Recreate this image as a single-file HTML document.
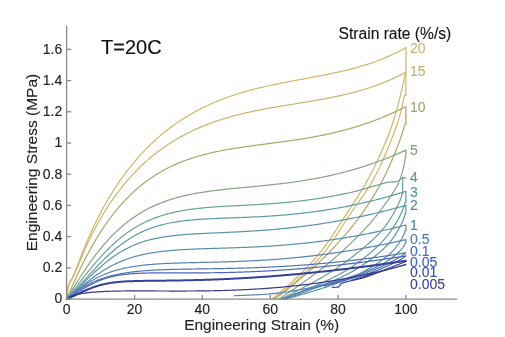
<!DOCTYPE html>
<html><head><meta charset="utf-8"><style>
html,body{margin:0;padding:0;background:#fff;}
body{width:505px;height:337px;overflow:hidden;font-family:"Liberation Sans", sans-serif;}
svg{display:block;}
svg{will-change:transform;}
</style></head><body>
<svg width="505" height="337" viewBox="0 0 505 337">
<rect width="505" height="337" fill="#fff"/>
<g fill="none" stroke-width="1.2" stroke-linejoin="round" stroke-linecap="round">
<path d="M66.70 299.10 L67.83 288.53 L68.97 284.39 L70.10 281.81 L71.24 279.92 L72.37 278.05 L73.51 275.61 L74.64 272.82 L75.78 269.91 L76.91 266.94 L78.04 263.95 L79.18 261.00 L80.31 258.02 L81.45 255.03 L82.58 252.09 L83.72 249.26 L84.85 246.48 L85.99 243.76 L87.12 241.08 L88.25 238.46 L89.39 235.89 L90.52 233.36 L91.66 230.87 L92.79 228.44 L93.93 226.04 L95.06 223.69 L96.20 221.37 L97.33 219.10 L98.46 216.86 L99.60 214.67 L100.73 212.51 L101.87 210.38 L103.00 208.29 L104.14 206.24 L105.27 204.22 L106.41 202.23 L107.54 200.27 L108.67 198.35 L109.81 196.45 L110.94 194.59 L112.08 192.75 L113.21 190.95 L114.35 189.17 L115.48 187.42 L116.62 185.69 L117.75 184.00 L118.88 182.33 L120.02 180.68 L121.15 179.06 L122.29 177.47 L123.42 175.89 L124.56 174.35 L125.69 172.82 L126.83 171.32 L127.96 169.84 L129.09 168.38 L130.23 166.95 L131.36 165.53 L132.50 164.14 L133.63 162.77 L134.77 161.42 L135.90 160.08 L137.04 158.77 L138.17 157.48 L139.30 156.20 L140.44 154.95 L141.57 153.71 L142.71 152.49 L143.84 151.29 L144.98 150.10 L146.11 148.93 L147.25 147.78 L148.38 146.65 L149.51 145.53 L150.65 144.43 L151.78 143.34 L152.92 142.27 L154.05 141.22 L155.19 140.18 L156.32 139.16 L157.46 138.15 L158.59 137.15 L159.72 136.17 L160.86 135.20 L161.99 134.25 L163.13 133.31 L164.26 132.38 L165.40 131.47 L166.53 130.57 L167.67 129.69 L168.80 128.81 L169.93 127.95 L171.07 127.10 L172.20 126.27 L173.34 125.44 L174.47 124.63 L175.61 123.83 L176.74 123.04 L177.88 122.26 L179.01 121.49 L180.14 120.74 L181.28 119.99 L182.41 119.26 L183.55 118.53 L184.68 117.82 L185.82 117.12 L186.95 116.43 L188.09 115.74 L189.22 115.07 L190.35 114.41 L191.49 113.75 L192.62 113.11 L193.76 112.48 L194.89 111.85 L196.03 111.23 L197.16 110.63 L198.30 110.03 L199.43 109.44 L200.56 108.86 L201.70 108.29 L202.83 107.72 L203.97 107.17 L205.10 106.62 L206.24 106.08 L207.37 105.55 L208.51 105.02 L209.64 104.51 L210.77 104.00 L211.91 103.50 L213.04 103.00 L214.18 102.52 L215.31 102.04 L216.45 101.57 L217.58 101.10 L218.72 100.64 L219.85 100.19 L220.98 99.74 L222.12 99.31 L223.25 98.87 L224.39 98.45 L225.52 98.03 L226.66 97.61 L227.79 97.21 L228.93 96.80 L230.06 96.41 L231.19 96.02 L232.33 95.63 L233.46 95.25 L234.60 94.88 L235.73 94.51 L236.87 94.15 L238.00 93.79 L239.14 93.44 L240.27 93.09 L241.41 92.75 L242.54 92.41 L243.67 92.08 L244.81 91.75 L245.94 91.43 L247.08 91.11 L248.21 90.79 L249.35 90.48 L250.48 90.17 L251.62 89.87 L252.75 89.57 L253.88 89.28 L255.02 88.99 L256.15 88.70 L257.29 88.42 L258.42 88.14 L259.56 87.86 L260.69 87.59 L261.83 87.32 L262.96 87.05 L264.09 86.79 L265.23 86.53 L266.36 86.27 L267.50 86.02 L268.63 85.77 L269.77 85.52 L270.90 85.27 L272.04 85.03 L273.17 84.79 L274.30 84.55 L275.44 84.31 L276.57 84.08 L277.71 83.85 L278.84 83.62 L279.98 83.39 L281.11 83.16 L282.25 82.94 L283.38 82.71 L284.51 82.49 L285.65 82.27 L286.78 82.05 L287.92 81.84 L289.05 81.62 L290.19 81.40 L291.32 81.19 L292.46 80.98 L293.59 80.77 L294.72 80.55 L295.86 80.34 L296.99 80.13 L298.13 79.93 L299.26 79.72 L300.40 79.51 L301.53 79.30 L302.67 79.09 L303.80 78.88 L304.93 78.67 L306.07 78.47 L307.20 78.26 L308.34 78.05 L309.47 77.84 L310.61 77.63 L311.74 77.42 L312.88 77.21 L314.01 77.00 L315.14 76.79 L316.28 76.57 L317.41 76.36 L318.55 76.14 L319.68 75.92 L320.82 75.71 L321.95 75.49 L323.09 75.26 L324.22 75.04 L325.35 74.82 L326.49 74.59 L327.62 74.36 L328.76 74.13 L329.89 73.90 L331.03 73.66 L332.16 73.43 L333.30 73.19 L334.43 72.94 L335.56 72.70 L336.70 72.45 L337.83 72.20 L338.97 71.95 L340.10 71.69 L341.24 71.43 L342.37 71.17 L343.51 70.90 L344.64 70.63 L345.77 70.36 L346.91 70.08 L348.04 69.80 L349.18 69.51 L350.31 69.22 L351.45 68.93 L352.58 68.63 L353.72 68.33 L354.85 68.03 L355.98 67.71 L357.12 67.40 L358.25 67.08 L359.39 66.75 L360.52 66.42 L361.66 66.08 L362.79 65.74 L363.93 65.40 L365.06 65.04 L366.19 64.69 L367.33 64.32 L368.46 63.95 L369.60 63.58 L370.73 63.20 L371.87 62.81 L373.00 62.41 L374.14 62.01 L375.27 61.60 L376.40 61.19 L377.54 60.77 L378.67 60.34 L379.81 59.90 L380.94 59.46 L382.08 59.01 L383.21 58.55 L384.35 58.08 L385.48 57.61 L386.61 57.13 L387.75 56.64 L388.88 56.14 L390.02 55.63 L391.15 55.12 L392.29 54.59 L393.42 54.06 L394.56 53.52 L395.69 52.97 L396.82 52.41 L397.96 51.84 L399.09 51.26 L400.23 50.67 L401.36 50.07 L402.50 49.47 L403.63 48.85 L404.77 48.22 L405.90 47.58 L405.90 95.70 L404.20 95.70 L403.98 97.07 L403.74 98.43 L403.49 99.80 L403.23 101.16 L402.95 102.53 L402.66 103.89 L402.36 105.26 L402.04 106.62 L401.72 107.99 L401.39 109.35 L401.04 110.72 L400.69 112.08 L400.33 113.45 L399.97 114.81 L399.60 116.18 L399.22 117.54 L398.84 118.91 L398.44 120.27 L398.02 121.64 L397.57 123.00 L397.11 124.37 L396.63 125.73 L396.13 127.10 L395.63 128.46 L395.13 129.83 L394.62 131.19 L394.10 132.56 L393.59 133.92 L393.07 135.29 L392.55 136.65 L392.03 138.02 L391.50 139.38 L390.97 140.75 L390.44 142.11 L389.90 143.48 L389.36 144.84 L388.81 146.21 L388.26 147.58 L387.70 148.94 L387.13 150.31 L386.57 151.67 L385.99 153.04 L385.41 154.40 L384.82 155.77 L384.23 157.13 L383.63 158.50 L383.02 159.86 L382.41 161.23 L381.79 162.59 L381.16 163.96 L380.52 165.32 L379.87 166.69 L379.22 168.05 L378.56 169.42 L377.89 170.78 L377.21 172.15 L376.52 173.51 L375.82 174.88 L375.11 176.24 L374.39 177.61 L373.64 178.97 L372.88 180.34 L372.09 181.70 L371.28 183.07 L370.45 184.43 L369.61 185.80 L368.74 187.16 L367.86 188.53 L366.97 189.89 L366.06 191.26 L365.15 192.62 L364.22 193.99 L363.28 195.35 L362.34 196.72 L361.38 198.08 L360.43 199.45 L359.47 200.81 L358.50 202.18 L357.54 203.54 L356.57 204.91 L355.61 206.27 L354.65 207.64 L353.69 209.00 L352.74 210.37 L351.79 211.73 L350.86 213.10 L349.93 214.46 L349.01 215.83 L348.10 217.19 L347.21 218.56 L346.32 219.92 L345.44 221.29 L344.56 222.66 L343.69 224.02 L342.82 225.39 L341.96 226.75 L341.09 228.12 L340.23 229.48 L339.36 230.85 L338.49 232.21 L337.61 233.58 L336.72 234.94 L335.83 236.31 L334.93 237.67 L334.02 239.04 L333.10 240.40 L332.16 241.77 L331.21 243.13 L330.24 244.50 L329.26 245.86 L328.25 247.23 L327.23 248.59 L326.19 249.96 L325.12 251.32 L324.03 252.69 L322.91 254.05 L321.77 255.42 L320.60 256.78 L319.40 258.15 L318.18 259.51 L316.94 260.88 L315.67 262.24 L314.38 263.61 L313.07 264.97 L311.73 266.34 L310.37 267.70 L308.99 269.07 L307.59 270.43 L306.16 271.80 L304.72 273.16 L303.25 274.53 L301.76 275.89 L300.25 277.26 L298.72 278.62 L297.17 279.99 L295.61 281.35 L294.02 282.72 L292.41 284.08 L290.79 285.45 L289.15 286.81 L287.49 288.18 L285.81 289.54 L284.12 290.91 L282.41 292.27 L280.68 293.64 L278.94 295.00 L277.18 296.37 L275.40 297.73 L273.61 299.10" stroke="#d2b76a"/>
<path d="M66.70 299.10 L67.83 288.53 L68.97 284.37 L70.10 281.74 L71.24 279.81 L72.37 277.97 L73.51 275.68 L74.64 273.22 L75.78 270.74 L76.91 268.24 L78.04 265.67 L79.18 263.02 L80.31 260.27 L81.45 257.44 L82.58 254.67 L83.72 252.04 L84.85 249.47 L85.99 246.94 L87.12 244.47 L88.25 242.05 L89.39 239.67 L90.52 237.35 L91.66 235.06 L92.79 232.82 L93.93 230.62 L95.06 228.47 L96.20 226.35 L97.33 224.27 L98.46 222.23 L99.60 220.23 L100.73 218.26 L101.87 216.32 L103.00 214.42 L104.14 212.56 L105.27 210.72 L106.41 208.92 L107.54 207.15 L108.67 205.41 L109.81 203.70 L110.94 202.01 L112.08 200.36 L113.21 198.73 L114.35 197.13 L115.48 195.56 L116.62 194.01 L117.75 192.49 L118.88 190.99 L120.02 189.52 L121.15 188.07 L122.29 186.64 L123.42 185.24 L124.56 183.86 L125.69 182.50 L126.83 181.16 L127.96 179.85 L129.09 178.56 L130.23 177.28 L131.36 176.03 L132.50 174.79 L133.63 173.58 L134.77 172.38 L135.90 171.21 L137.04 170.05 L138.17 168.91 L139.30 167.79 L140.44 166.68 L141.57 165.59 L142.71 164.52 L143.84 163.47 L144.98 162.43 L146.11 161.41 L147.25 160.40 L148.38 159.41 L149.51 158.44 L150.65 157.48 L151.78 156.53 L152.92 155.60 L154.05 154.69 L155.19 153.78 L156.32 152.90 L157.46 152.02 L158.59 151.16 L159.72 150.31 L160.86 149.48 L161.99 148.66 L163.13 147.85 L164.26 147.05 L165.40 146.27 L166.53 145.49 L167.67 144.73 L168.80 143.98 L169.93 143.25 L171.07 142.52 L172.20 141.81 L173.34 141.10 L174.47 140.41 L175.61 139.73 L176.74 139.06 L177.88 138.40 L179.01 137.75 L180.14 137.11 L181.28 136.48 L182.41 135.86 L183.55 135.24 L184.68 134.64 L185.82 134.05 L186.95 133.47 L188.09 132.89 L189.22 132.33 L190.35 131.77 L191.49 131.23 L192.62 130.69 L193.76 130.16 L194.89 129.63 L196.03 129.12 L197.16 128.61 L198.30 128.12 L199.43 127.63 L200.56 127.14 L201.70 126.67 L202.83 126.20 L203.97 125.74 L205.10 125.29 L206.24 124.84 L207.37 124.40 L208.51 123.97 L209.64 123.55 L210.77 123.13 L211.91 122.72 L213.04 122.31 L214.18 121.91 L215.31 121.52 L216.45 121.13 L217.58 120.75 L218.72 120.38 L219.85 120.01 L220.98 119.64 L222.12 119.29 L223.25 118.94 L224.39 118.59 L225.52 118.25 L226.66 117.91 L227.79 117.58 L228.93 117.25 L230.06 116.93 L231.19 116.62 L232.33 116.30 L233.46 116.00 L234.60 115.70 L235.73 115.40 L236.87 115.10 L238.00 114.82 L239.14 114.53 L240.27 114.25 L241.41 113.97 L242.54 113.70 L243.67 113.43 L244.81 113.17 L245.94 112.90 L247.08 112.65 L248.21 112.39 L249.35 112.14 L250.48 111.89 L251.62 111.65 L252.75 111.41 L253.88 111.17 L255.02 110.93 L256.15 110.70 L257.29 110.47 L258.42 110.24 L259.56 110.02 L260.69 109.80 L261.83 109.58 L262.96 109.36 L264.09 109.15 L265.23 108.93 L266.36 108.72 L267.50 108.51 L268.63 108.31 L269.77 108.10 L270.90 107.90 L272.04 107.70 L273.17 107.50 L274.30 107.30 L275.44 107.11 L276.57 106.91 L277.71 106.72 L278.84 106.53 L279.98 106.33 L281.11 106.14 L282.25 105.95 L283.38 105.77 L284.51 105.58 L285.65 105.39 L286.78 105.21 L287.92 105.02 L289.05 104.83 L290.19 104.65 L291.32 104.47 L292.46 104.28 L293.59 104.10 L294.72 103.91 L295.86 103.73 L296.99 103.54 L298.13 103.36 L299.26 103.18 L300.40 102.99 L301.53 102.81 L302.67 102.62 L303.80 102.43 L304.93 102.25 L306.07 102.06 L307.20 101.87 L308.34 101.68 L309.47 101.49 L310.61 101.30 L311.74 101.10 L312.88 100.91 L314.01 100.71 L315.14 100.52 L316.28 100.32 L317.41 100.12 L318.55 99.92 L319.68 99.71 L320.82 99.51 L321.95 99.30 L323.09 99.09 L324.22 98.88 L325.35 98.67 L326.49 98.45 L327.62 98.23 L328.76 98.01 L329.89 97.79 L331.03 97.56 L332.16 97.33 L333.30 97.10 L334.43 96.87 L335.56 96.63 L336.70 96.39 L337.83 96.14 L338.97 95.90 L340.10 95.65 L341.24 95.39 L342.37 95.14 L343.51 94.88 L344.64 94.61 L345.77 94.34 L346.91 94.07 L348.04 93.79 L349.18 93.51 L350.31 93.23 L351.45 92.94 L352.58 92.65 L353.72 92.35 L354.85 92.05 L355.98 91.74 L357.12 91.43 L358.25 91.12 L359.39 90.79 L360.52 90.47 L361.66 90.14 L362.79 89.80 L363.93 89.46 L365.06 89.11 L366.19 88.76 L367.33 88.40 L368.46 88.04 L369.60 87.67 L370.73 87.30 L371.87 86.91 L373.00 86.53 L374.14 86.13 L375.27 85.73 L376.40 85.33 L377.54 84.92 L378.67 84.50 L379.81 84.07 L380.94 83.64 L382.08 83.20 L383.21 82.75 L384.35 82.30 L385.48 81.84 L386.61 81.37 L387.75 80.90 L388.88 80.42 L390.02 79.93 L391.15 79.43 L392.29 78.92 L393.42 78.41 L394.56 77.89 L395.69 77.36 L396.82 76.82 L397.96 76.28 L399.09 75.72 L400.23 75.16 L401.36 74.59 L402.50 74.01 L403.63 73.42 L404.77 72.82 L405.90 72.22 L405.56 72.29 L405.25 73.81 L404.94 75.33 L404.62 76.85 L404.30 78.38 L403.97 79.90 L403.64 81.42 L403.30 82.94 L402.96 84.46 L402.62 85.99 L402.27 87.51 L401.91 89.03 L401.56 90.55 L401.20 92.08 L400.83 93.60 L400.46 95.12 L400.09 96.64 L399.72 98.16 L399.34 99.69 L398.96 101.21 L398.57 102.73 L398.18 104.25 L397.78 105.78 L397.38 107.30 L396.97 108.82 L396.56 110.34 L396.14 111.86 L395.71 113.39 L395.28 114.91 L394.83 116.43 L394.38 117.95 L393.92 119.48 L393.44 121.00 L392.95 122.52 L392.44 124.04 L391.92 125.56 L391.38 127.09 L390.83 128.61 L390.26 130.13 L389.69 131.65 L389.10 133.18 L388.51 134.70 L387.91 136.22 L387.31 137.74 L386.70 139.27 L386.08 140.79 L385.46 142.31 L384.82 143.83 L384.19 145.35 L383.54 146.88 L382.89 148.40 L382.23 149.92 L381.56 151.44 L380.89 152.97 L380.21 154.49 L379.52 156.01 L378.82 157.53 L378.12 159.05 L377.41 160.58 L376.69 162.10 L375.97 163.62 L375.24 165.14 L374.50 166.67 L373.75 168.19 L373.00 169.71 L372.24 171.23 L371.47 172.75 L370.69 174.28 L369.91 175.80 L369.11 177.32 L368.31 178.84 L367.48 180.37 L366.64 181.89 L365.78 183.41 L364.91 184.93 L364.02 186.45 L363.12 187.98 L362.21 189.50 L361.28 191.02 L360.35 192.54 L359.40 194.07 L358.44 195.59 L357.48 197.11 L356.51 198.63 L355.53 200.15 L354.55 201.68 L353.56 203.20 L352.57 204.72 L351.58 206.24 L350.58 207.77 L349.58 209.29 L348.58 210.81 L347.58 212.33 L346.59 213.85 L345.59 215.38 L344.60 216.90 L343.62 218.42 L342.63 219.94 L341.65 221.47 L340.68 222.99 L339.70 224.51 L338.72 226.03 L337.73 227.55 L336.74 229.08 L335.75 230.60 L334.75 232.12 L333.74 233.64 L332.73 235.17 L331.70 236.69 L330.66 238.21 L329.61 239.73 L328.54 241.25 L327.46 242.78 L326.36 244.30 L325.24 245.82 L324.10 247.34 L322.95 248.87 L321.77 250.39 L320.57 251.91 L319.34 253.43 L318.09 254.96 L316.81 256.48 L315.50 258.00 L314.17 259.52 L312.82 261.04 L311.44 262.57 L310.04 264.09 L308.61 265.61 L307.17 267.13 L305.69 268.66 L304.20 270.18 L302.68 271.70 L301.14 273.22 L299.58 274.74 L298.00 276.27 L296.40 277.79 L294.77 279.31 L293.13 280.83 L291.46 282.36 L289.78 283.88 L288.07 285.40 L286.35 286.92 L284.61 288.44 L282.85 289.97 L281.07 291.49 L279.27 293.01 L277.46 294.53 L275.63 296.06 L273.78 297.58 L271.92 299.10" stroke="#cbb56e"/>
<path d="M66.70 299.10 L67.83 296.41 L68.97 293.73 L70.10 291.09 L71.24 288.47 L72.37 285.88 L73.51 283.32 L74.64 280.80 L75.78 278.31 L76.91 275.84 L78.04 273.42 L79.18 271.02 L80.31 268.66 L81.45 266.33 L82.58 264.04 L83.72 261.78 L84.85 259.55 L85.99 257.36 L87.12 255.20 L88.25 253.08 L89.39 250.98 L90.52 248.92 L91.66 246.89 L92.79 244.90 L93.93 242.93 L95.06 241.00 L96.20 239.10 L97.33 237.23 L98.46 235.40 L99.60 233.59 L100.73 231.81 L101.87 230.06 L103.00 228.34 L104.14 226.66 L105.27 225.00 L106.41 223.36 L107.54 221.76 L108.67 220.18 L109.81 218.64 L110.94 217.12 L112.08 215.62 L113.21 214.15 L114.35 212.71 L115.48 211.29 L116.62 209.90 L117.75 208.54 L118.88 207.20 L120.02 205.88 L121.15 204.58 L122.29 203.31 L123.42 202.07 L124.56 200.84 L125.69 199.64 L126.83 198.46 L127.96 197.30 L129.09 196.17 L130.23 195.05 L131.36 193.96 L132.50 192.88 L133.63 191.83 L134.77 190.80 L135.90 189.78 L137.04 188.79 L138.17 187.81 L139.30 186.85 L140.44 185.91 L141.57 184.99 L142.71 184.09 L143.84 183.20 L144.98 182.33 L146.11 181.48 L147.25 180.65 L148.38 179.83 L149.51 179.02 L150.65 178.24 L151.78 177.46 L152.92 176.71 L154.05 175.96 L155.19 175.24 L156.32 174.52 L157.46 173.83 L158.59 173.14 L159.72 172.47 L160.86 171.81 L161.99 171.17 L163.13 170.53 L164.26 169.92 L165.40 169.31 L166.53 168.71 L167.67 168.13 L168.80 167.56 L169.93 167.00 L171.07 166.46 L172.20 165.92 L173.34 165.39 L174.47 164.88 L175.61 164.38 L176.74 163.88 L177.88 163.40 L179.01 162.92 L180.14 162.46 L181.28 162.01 L182.41 161.56 L183.55 161.12 L184.68 160.70 L185.82 160.28 L186.95 159.87 L188.09 159.47 L189.22 159.08 L190.35 158.69 L191.49 158.31 L192.62 157.95 L193.76 157.58 L194.89 157.23 L196.03 156.88 L197.16 156.54 L198.30 156.21 L199.43 155.88 L200.56 155.57 L201.70 155.25 L202.83 154.95 L203.97 154.65 L205.10 154.35 L206.24 154.06 L207.37 153.78 L208.51 153.50 L209.64 153.23 L210.77 152.96 L211.91 152.70 L213.04 152.45 L214.18 152.19 L215.31 151.95 L216.45 151.71 L217.58 151.47 L218.72 151.24 L219.85 151.01 L220.98 150.78 L222.12 150.56 L223.25 150.34 L224.39 150.13 L225.52 149.92 L226.66 149.72 L227.79 149.51 L228.93 149.31 L230.06 149.12 L231.19 148.92 L232.33 148.73 L233.46 148.55 L234.60 148.36 L235.73 148.18 L236.87 148.00 L238.00 147.82 L239.14 147.65 L240.27 147.48 L241.41 147.31 L242.54 147.14 L243.67 146.97 L244.81 146.81 L245.94 146.64 L247.08 146.48 L248.21 146.32 L249.35 146.17 L250.48 146.01 L251.62 145.85 L252.75 145.70 L253.88 145.54 L255.02 145.39 L256.15 145.24 L257.29 145.09 L258.42 144.94 L259.56 144.79 L260.69 144.64 L261.83 144.49 L262.96 144.34 L264.09 144.20 L265.23 144.05 L266.36 143.90 L267.50 143.75 L268.63 143.60 L269.77 143.46 L270.90 143.31 L272.04 143.16 L273.17 143.01 L274.30 142.86 L275.44 142.71 L276.57 142.56 L277.71 142.41 L278.84 142.26 L279.98 142.11 L281.11 141.96 L282.25 141.80 L283.38 141.65 L284.51 141.49 L285.65 141.33 L286.78 141.17 L287.92 141.01 L289.05 140.85 L290.19 140.69 L291.32 140.53 L292.46 140.36 L293.59 140.19 L294.72 140.02 L295.86 139.85 L296.99 139.68 L298.13 139.51 L299.26 139.33 L300.40 139.15 L301.53 138.97 L302.67 138.79 L303.80 138.60 L304.93 138.42 L306.07 138.23 L307.20 138.04 L308.34 137.84 L309.47 137.64 L310.61 137.45 L311.74 137.24 L312.88 137.04 L314.01 136.83 L315.14 136.62 L316.28 136.41 L317.41 136.19 L318.55 135.98 L319.68 135.75 L320.82 135.53 L321.95 135.30 L323.09 135.07 L324.22 134.84 L325.35 134.60 L326.49 134.36 L327.62 134.12 L328.76 133.87 L329.89 133.62 L331.03 133.36 L332.16 133.11 L333.30 132.84 L334.43 132.58 L335.56 132.31 L336.70 132.04 L337.83 131.76 L338.97 131.48 L340.10 131.20 L341.24 130.91 L342.37 130.62 L343.51 130.32 L344.64 130.02 L345.77 129.71 L346.91 129.41 L348.04 129.09 L349.18 128.78 L350.31 128.45 L351.45 128.13 L352.58 127.80 L353.72 127.46 L354.85 127.12 L355.98 126.78 L357.12 126.43 L358.25 126.08 L359.39 125.72 L360.52 125.36 L361.66 124.99 L362.79 124.62 L363.93 124.24 L365.06 123.86 L366.19 123.47 L367.33 123.08 L368.46 122.69 L369.60 122.28 L370.73 121.88 L371.87 121.46 L373.00 121.05 L374.14 120.62 L375.27 120.20 L376.40 119.76 L377.54 119.33 L378.67 118.88 L379.81 118.43 L380.94 117.98 L382.08 117.52 L383.21 117.05 L384.35 116.58 L385.48 116.10 L386.61 115.62 L387.75 115.13 L388.88 114.64 L390.02 114.14 L391.15 113.63 L392.29 113.12 L393.42 112.60 L394.56 112.08 L395.69 111.55 L396.82 111.02 L397.96 110.48 L399.09 109.93 L400.23 109.38 L401.36 108.82 L402.50 108.25 L403.63 107.68 L404.77 107.10 L405.90 106.52 L405.90 124.27 L404.88 124.27 L404.56 125.44 L404.23 126.61 L403.89 127.79 L403.54 128.96 L403.19 130.13 L402.83 131.31 L402.46 132.48 L402.09 133.65 L401.70 134.83 L401.31 136.00 L400.92 137.18 L400.52 138.35 L400.11 139.52 L399.69 140.70 L399.27 141.87 L398.84 143.04 L398.41 144.22 L397.97 145.39 L397.52 146.56 L397.07 147.74 L396.61 148.91 L396.15 150.08 L395.68 151.26 L395.21 152.43 L394.73 153.60 L394.25 154.78 L393.76 155.95 L393.27 157.12 L392.77 158.30 L392.27 159.47 L391.77 160.64 L391.26 161.82 L390.74 162.99 L390.22 164.16 L389.70 165.34 L389.17 166.51 L388.64 167.68 L388.11 168.86 L387.57 170.03 L387.03 171.20 L386.48 172.38 L385.92 173.55 L385.35 174.72 L384.77 175.90 L384.18 177.07 L383.58 178.24 L382.98 179.42 L382.37 180.59 L381.75 181.76 L381.12 182.94 L380.48 184.11 L379.83 185.28 L379.18 186.46 L378.52 187.63 L377.85 188.80 L377.17 189.98 L376.49 191.15 L375.80 192.32 L375.10 193.50 L374.39 194.67 L373.67 195.84 L372.95 197.02 L372.22 198.19 L371.49 199.36 L370.74 200.54 L369.99 201.71 L369.23 202.88 L368.47 204.06 L367.70 205.23 L366.92 206.40 L366.14 207.58 L365.34 208.75 L364.55 209.92 L363.74 211.10 L362.92 212.27 L362.09 213.44 L361.26 214.62 L360.41 215.79 L359.55 216.96 L358.67 218.14 L357.79 219.31 L356.90 220.48 L356.00 221.66 L355.09 222.83 L354.17 224.00 L353.23 225.18 L352.29 226.35 L351.34 227.52 L350.38 228.70 L349.41 229.87 L348.43 231.04 L347.44 232.22 L346.44 233.39 L345.43 234.56 L344.42 235.74 L343.39 236.91 L342.36 238.08 L341.31 239.26 L340.26 240.43 L339.20 241.60 L338.13 242.78 L337.06 243.95 L335.97 245.13 L334.88 246.30 L333.78 247.47 L332.67 248.65 L331.55 249.82 L330.43 250.99 L329.29 252.17 L328.16 253.34 L327.01 254.51 L325.85 255.69 L324.68 256.86 L323.50 258.03 L322.31 259.21 L321.10 260.38 L319.87 261.55 L318.64 262.73 L317.39 263.90 L316.13 265.07 L314.85 266.25 L313.57 267.42 L312.27 268.59 L310.96 269.77 L309.64 270.94 L308.30 272.11 L306.95 273.29 L305.60 274.46 L304.23 275.63 L302.84 276.81 L301.45 277.98 L300.05 279.15 L298.63 280.33 L297.21 281.50 L295.77 282.67 L294.33 283.85 L292.87 285.02 L291.40 286.19 L289.92 287.37 L288.44 288.54 L286.94 289.71 L285.43 290.89 L283.92 292.06 L282.39 293.23 L280.86 294.41 L279.31 295.58 L277.76 296.75 L276.20 297.93 L274.63 299.10" stroke="#a9a868"/>
<path d="M66.70 299.10 L67.83 297.21 L68.97 295.32 L70.10 293.43 L71.24 291.56 L72.37 289.69 L73.51 287.83 L74.64 285.98 L75.78 284.15 L76.91 282.33 L78.04 280.53 L79.18 278.74 L80.31 276.97 L81.45 275.21 L82.58 273.48 L83.72 271.76 L84.85 270.06 L85.99 268.38 L87.12 266.72 L88.25 265.08 L89.39 263.46 L90.52 261.87 L91.66 260.29 L92.79 258.74 L93.93 257.21 L95.06 255.70 L96.20 254.22 L97.33 252.75 L98.46 251.31 L99.60 249.89 L100.73 248.50 L101.87 247.12 L103.00 245.77 L104.14 244.45 L105.27 243.14 L106.41 241.86 L107.54 240.60 L108.67 239.36 L109.81 238.15 L110.94 236.95 L112.08 235.78 L113.21 234.63 L114.35 233.50 L115.48 232.40 L116.62 231.31 L117.75 230.25 L118.88 229.20 L120.02 228.18 L121.15 227.18 L122.29 226.20 L123.42 225.24 L124.56 224.29 L125.69 223.37 L126.83 222.47 L127.96 221.58 L129.09 220.72 L130.23 219.87 L131.36 219.04 L132.50 218.23 L133.63 217.43 L134.77 216.66 L135.90 215.90 L137.04 215.15 L138.17 214.43 L139.30 213.72 L140.44 213.02 L141.57 212.34 L142.71 211.68 L143.84 211.03 L144.98 210.40 L146.11 209.78 L147.25 209.18 L148.38 208.59 L149.51 208.01 L150.65 207.45 L151.78 206.90 L152.92 206.37 L154.05 205.84 L155.19 205.33 L156.32 204.83 L157.46 204.35 L158.59 203.87 L159.72 203.41 L160.86 202.96 L161.99 202.52 L163.13 202.09 L164.26 201.67 L165.40 201.26 L166.53 200.86 L167.67 200.47 L168.80 200.09 L169.93 199.72 L171.07 199.36 L172.20 199.01 L173.34 198.67 L174.47 198.33 L175.61 198.01 L176.74 197.69 L177.88 197.38 L179.01 197.08 L180.14 196.79 L181.28 196.50 L182.41 196.22 L183.55 195.95 L184.68 195.68 L185.82 195.42 L186.95 195.17 L188.09 194.92 L189.22 194.68 L190.35 194.45 L191.49 194.22 L192.62 194.00 L193.76 193.78 L194.89 193.57 L196.03 193.36 L197.16 193.16 L198.30 192.96 L199.43 192.77 L200.56 192.58 L201.70 192.40 L202.83 192.22 L203.97 192.04 L205.10 191.87 L206.24 191.70 L207.37 191.54 L208.51 191.38 L209.64 191.22 L210.77 191.07 L211.91 190.92 L213.04 190.77 L214.18 190.62 L215.31 190.48 L216.45 190.34 L217.58 190.20 L218.72 190.07 L219.85 189.94 L220.98 189.81 L222.12 189.68 L223.25 189.55 L224.39 189.43 L225.52 189.31 L226.66 189.19 L227.79 189.07 L228.93 188.95 L230.06 188.84 L231.19 188.72 L232.33 188.61 L233.46 188.49 L234.60 188.38 L235.73 188.27 L236.87 188.16 L238.00 188.05 L239.14 187.94 L240.27 187.83 L241.41 187.73 L242.54 187.62 L243.67 187.51 L244.81 187.41 L245.94 187.30 L247.08 187.19 L248.21 187.09 L249.35 186.98 L250.48 186.87 L251.62 186.76 L252.75 186.66 L253.88 186.55 L255.02 186.44 L256.15 186.33 L257.29 186.22 L258.42 186.11 L259.56 186.00 L260.69 185.89 L261.83 185.78 L262.96 185.66 L264.09 185.55 L265.23 185.43 L266.36 185.32 L267.50 185.20 L268.63 185.08 L269.77 184.96 L270.90 184.84 L272.04 184.72 L273.17 184.59 L274.30 184.47 L275.44 184.34 L276.57 184.21 L277.71 184.08 L278.84 183.95 L279.98 183.82 L281.11 183.68 L282.25 183.54 L283.38 183.40 L284.51 183.26 L285.65 183.12 L286.78 182.97 L287.92 182.83 L289.05 182.68 L290.19 182.53 L291.32 182.37 L292.46 182.22 L293.59 182.06 L294.72 181.90 L295.86 181.74 L296.99 181.57 L298.13 181.40 L299.26 181.23 L300.40 181.06 L301.53 180.88 L302.67 180.71 L303.80 180.53 L304.93 180.34 L306.07 180.16 L307.20 179.97 L308.34 179.78 L309.47 179.58 L310.61 179.39 L311.74 179.19 L312.88 178.98 L314.01 178.78 L315.14 178.57 L316.28 178.36 L317.41 178.14 L318.55 177.93 L319.68 177.71 L320.82 177.48 L321.95 177.26 L323.09 177.02 L324.22 176.79 L325.35 176.56 L326.49 176.32 L327.62 176.07 L328.76 175.83 L329.89 175.58 L331.03 175.32 L332.16 175.07 L333.30 174.81 L334.43 174.54 L335.56 174.28 L336.70 174.01 L337.83 173.73 L338.97 173.46 L340.10 173.18 L341.24 172.89 L342.37 172.60 L343.51 172.31 L344.64 172.02 L345.77 171.72 L346.91 171.41 L348.04 171.11 L349.18 170.80 L350.31 170.48 L351.45 170.17 L352.58 169.85 L353.72 169.52 L354.85 169.19 L355.98 168.86 L357.12 168.52 L358.25 168.18 L359.39 167.84 L360.52 167.49 L361.66 167.13 L362.79 166.78 L363.93 166.42 L365.06 166.05 L366.19 165.68 L367.33 165.31 L368.46 164.94 L369.60 164.55 L370.73 164.17 L371.87 163.78 L373.00 163.39 L374.14 162.99 L375.27 162.59 L376.40 162.18 L377.54 161.77 L378.67 161.36 L379.81 160.94 L380.94 160.52 L382.08 160.09 L383.21 159.66 L384.35 159.23 L385.48 158.79 L386.61 158.34 L387.75 157.89 L388.88 157.44 L390.02 156.98 L391.15 156.52 L392.29 156.06 L393.42 155.59 L394.56 155.11 L395.69 154.63 L396.82 154.15 L397.96 153.66 L399.09 153.17 L400.23 152.67 L401.36 152.17 L402.50 151.67 L403.63 151.16 L404.77 150.64 L405.90 150.12 L405.90 157.52 L405.22 157.52 L405.13 158.47 L405.03 159.42 L404.90 160.37 L404.77 161.32 L404.61 162.27 L404.45 163.22 L404.26 164.17 L404.07 165.12 L403.86 166.07 L403.65 167.02 L403.42 167.97 L403.18 168.92 L402.93 169.87 L402.67 170.82 L402.40 171.77 L402.13 172.72 L401.85 173.67 L401.56 174.62 L401.27 175.57 L400.97 176.52 L400.67 177.47 L400.34 178.42 L400.00 179.37 L399.62 180.32 L399.23 181.27 L398.81 182.22 L398.38 183.17 L397.92 184.12 L397.44 185.07 L396.95 186.02 L396.44 186.97 L395.91 187.92 L395.37 188.87 L394.81 189.82 L394.23 190.77 L393.65 191.73 L393.05 192.68 L392.43 193.63 L391.81 194.58 L391.18 195.53 L390.53 196.48 L389.88 197.43 L389.22 198.38 L388.55 199.33 L387.87 200.28 L387.19 201.23 L386.51 202.18 L385.82 203.13 L385.12 204.08 L384.43 205.03 L383.73 205.98 L383.03 206.93 L382.33 207.88 L381.63 208.83 L380.94 209.78 L380.24 210.73 L379.53 211.68 L378.81 212.63 L378.08 213.58 L377.33 214.53 L376.58 215.48 L375.82 216.43 L375.05 217.38 L374.27 218.33 L373.48 219.28 L372.68 220.23 L371.87 221.18 L371.05 222.13 L370.22 223.08 L369.39 224.03 L368.54 224.98 L367.69 225.93 L366.83 226.88 L365.96 227.83 L365.08 228.78 L364.19 229.73 L363.29 230.68 L362.39 231.63 L361.48 232.58 L360.56 233.53 L359.63 234.49 L358.70 235.44 L357.76 236.39 L356.81 237.34 L355.86 238.29 L354.90 239.24 L353.93 240.19 L352.95 241.14 L351.97 242.09 L350.98 243.04 L349.99 243.99 L348.99 244.94 L347.98 245.89 L346.97 246.84 L345.95 247.79 L344.93 248.74 L343.90 249.69 L342.87 250.64 L341.83 251.59 L340.79 252.54 L339.74 253.49 L338.69 254.44 L337.63 255.39 L336.56 256.34 L335.48 257.29 L334.39 258.24 L333.29 259.19 L332.18 260.14 L331.06 261.09 L329.92 262.04 L328.78 262.99 L327.63 263.94 L326.47 264.89 L325.29 265.84 L324.11 266.79 L322.92 267.74 L321.72 268.69 L320.51 269.64 L319.29 270.59 L318.05 271.54 L316.82 272.49 L315.57 273.44 L314.31 274.39 L313.04 275.34 L311.76 276.29 L310.48 277.24 L309.19 278.20 L307.88 279.15 L306.57 280.10 L305.25 281.05 L303.93 282.00 L302.59 282.95 L301.24 283.90 L299.89 284.85 L298.53 285.80 L297.16 286.75 L295.79 287.70 L294.40 288.65 L293.01 289.60 L291.61 290.55 L290.21 291.50 L288.79 292.45 L287.37 293.40 L285.94 294.35 L284.51 295.30 L283.07 296.25 L281.62 297.20 L280.16 298.15 L278.70 299.10" stroke="#88a484"/>
<path d="M66.70 299.10 L67.83 297.67 L68.95 296.23 L70.08 294.79 L71.21 293.34 L72.33 291.88 L73.46 290.42 L74.59 288.96 L75.71 287.50 L76.84 286.04 L77.97 284.58 L79.09 283.13 L80.22 281.67 L81.34 280.23 L82.47 278.79 L83.60 277.35 L84.72 275.92 L85.85 274.50 L86.98 273.09 L88.10 271.69 L89.23 270.30 L90.36 268.92 L91.48 267.56 L92.61 266.20 L93.74 264.86 L94.86 263.53 L95.99 262.22 L97.12 260.92 L98.24 259.64 L99.37 258.37 L100.50 257.12 L101.62 255.89 L102.75 254.67 L103.87 253.47 L105.00 252.29 L106.13 251.13 L107.25 249.98 L108.38 248.86 L109.51 247.75 L110.63 246.66 L111.76 245.58 L112.89 244.53 L114.01 243.50 L115.14 242.48 L116.27 241.48 L117.39 240.51 L118.52 239.55 L119.65 238.61 L120.77 237.69 L121.90 236.79 L123.03 235.91 L124.15 235.04 L125.28 234.20 L126.40 233.37 L127.53 232.56 L128.66 231.77 L129.78 231.00 L130.91 230.24 L132.04 229.50 L133.16 228.78 L134.29 228.08 L135.42 227.39 L136.54 226.72 L137.67 226.07 L138.80 225.43 L139.92 224.81 L141.05 224.21 L142.18 223.62 L143.30 223.05 L144.43 222.49 L145.56 221.94 L146.68 221.41 L147.81 220.90 L148.94 220.40 L150.06 219.91 L151.19 219.44 L152.31 218.98 L153.44 218.53 L154.57 218.09 L155.69 217.67 L156.82 217.26 L157.95 216.86 L159.07 216.47 L160.20 216.10 L161.33 215.73 L162.45 215.38 L163.58 215.03 L164.71 214.70 L165.83 214.38 L166.96 214.07 L168.09 213.76 L169.21 213.47 L170.34 213.18 L171.47 212.91 L172.59 212.64 L173.72 212.38 L174.84 212.13 L175.97 211.89 L177.10 211.65 L178.22 211.42 L179.35 211.20 L180.48 210.99 L181.60 210.78 L182.73 210.58 L183.86 210.39 L184.98 210.20 L186.11 210.02 L187.24 209.85 L188.36 209.68 L189.49 209.52 L190.62 209.36 L191.74 209.21 L192.87 209.06 L194.00 208.91 L195.12 208.78 L196.25 208.64 L197.37 208.51 L198.50 208.39 L199.63 208.27 L200.75 208.15 L201.88 208.03 L203.01 207.92 L204.13 207.82 L205.26 207.71 L206.39 207.61 L207.51 207.52 L208.64 207.42 L209.77 207.33 L210.89 207.24 L212.02 207.15 L213.15 207.07 L214.27 206.99 L215.40 206.91 L216.53 206.83 L217.65 206.75 L218.78 206.68 L219.90 206.61 L221.03 206.54 L222.16 206.47 L223.28 206.40 L224.41 206.33 L225.54 206.27 L226.66 206.20 L227.79 206.14 L228.92 206.08 L230.04 206.01 L231.17 205.95 L232.30 205.89 L233.42 205.83 L234.55 205.77 L235.68 205.71 L236.80 205.65 L237.93 205.59 L239.06 205.54 L240.18 205.48 L241.31 205.42 L242.44 205.36 L243.56 205.30 L244.69 205.24 L245.81 205.18 L246.94 205.12 L248.07 205.06 L249.19 205.00 L250.32 204.94 L251.45 204.88 L252.57 204.82 L253.70 204.75 L254.83 204.69 L255.95 204.63 L257.08 204.56 L258.21 204.49 L259.33 204.43 L260.46 204.36 L261.59 204.29 L262.71 204.22 L263.84 204.15 L264.97 204.07 L266.09 204.00 L267.22 203.92 L268.34 203.85 L269.47 203.77 L270.60 203.69 L271.72 203.61 L272.85 203.52 L273.98 203.44 L275.10 203.35 L276.23 203.27 L277.36 203.18 L278.48 203.09 L279.61 202.99 L280.74 202.90 L281.86 202.80 L282.99 202.70 L284.12 202.60 L285.24 202.50 L286.37 202.40 L287.50 202.29 L288.62 202.18 L289.75 202.07 L290.87 201.96 L292.00 201.85 L293.13 201.73 L294.25 201.61 L295.38 201.49 L296.51 201.37 L297.63 201.24 L298.76 201.11 L299.89 200.98 L301.01 200.85 L302.14 200.72 L303.27 200.58 L304.39 200.44 L305.52 200.30 L306.65 200.16 L307.77 200.01 L308.90 199.86 L310.03 199.71 L311.15 199.56 L312.28 199.40 L313.41 199.24 L314.53 199.08 L315.66 198.92 L316.78 198.75 L317.91 198.58 L319.04 198.41 L320.16 198.23 L321.29 198.06 L322.42 197.88 L323.54 197.69 L324.67 197.51 L325.80 197.32 L326.92 197.13 L328.05 196.94 L329.18 196.74 L330.30 196.54 L331.43 196.34 L332.56 196.14 L333.68 195.93 L334.81 195.72 L335.94 195.51 L337.06 195.29 L338.19 195.07 L339.31 194.85 L340.44 194.62 L341.57 194.40 L342.69 194.17 L343.82 193.93 L344.95 193.70 L346.07 193.46 L347.20 193.22 L348.33 192.97 L349.45 192.72 L350.58 192.47 L351.71 192.22 L352.83 191.96 L353.32 191.85 L353.95 191.69 L354.57 191.54 L355.20 191.38 L355.82 191.22 L356.45 191.06 L357.07 190.89 L357.70 190.73 L358.32 190.56 L358.95 190.39 L359.57 190.22 L360.20 190.04 L360.82 189.87 L361.45 189.69 L362.07 189.52 L362.69 189.34 L363.32 189.16 L363.94 188.98 L364.57 188.80 L365.19 188.62 L365.82 188.44 L366.44 188.26 L367.07 188.07 L367.69 187.89 L368.32 187.71 L368.94 187.53 L369.57 187.35 L370.19 187.17 L370.82 186.98 L371.44 186.80 L372.07 186.63 L372.69 186.45 L373.32 186.27 L373.94 186.09 L374.56 185.92 L375.19 185.74 L375.81 185.57 L376.44 185.40 L377.06 185.23 L377.69 185.06 L378.31 184.90 L378.94 184.73 L379.56 184.57 L380.19 184.40 L380.81 184.22 L381.44 184.04 L382.06 183.85 L382.69 183.66 L383.31 183.47 L383.94 183.29 L384.56 183.10 L385.19 182.93 L385.81 182.76 L386.43 182.60 L387.06 182.46 L387.68 182.33 L388.31 182.22 L388.93 182.13 L389.56 182.06 L390.18 182.01 L390.81 181.98 L391.43 181.95 L392.06 181.93 L392.68 181.92 L393.31 181.90 L393.93 181.87 L394.56 181.84 L395.18 181.79 L395.81 181.70 L396.43 181.54 L397.06 181.31 L397.68 181.03 L398.30 180.70 L398.93 180.33 L399.55 179.91 L400.18 179.45 L400.80 178.96 L401.43 178.44 L402.05 177.90 L402.68 177.34 L405.90 177.97 L402.68 177.81 L402.68 191.39 L402.85 191.39 L402.68 192.11 L402.50 192.84 L402.32 193.56 L402.12 194.28 L401.91 195.01 L401.69 195.73 L401.46 196.45 L401.22 197.17 L400.97 197.90 L400.71 198.62 L400.44 199.34 L400.16 200.07 L399.87 200.79 L399.57 201.51 L399.26 202.23 L398.95 202.96 L398.63 203.68 L398.30 204.40 L397.96 205.13 L397.61 205.85 L397.26 206.57 L396.90 207.29 L396.53 208.02 L396.16 208.74 L395.78 209.46 L395.39 210.19 L394.99 210.91 L394.60 211.63 L394.19 212.35 L393.78 213.08 L393.36 213.80 L392.94 214.52 L392.52 215.25 L392.08 215.97 L391.65 216.69 L391.21 217.41 L390.77 218.14 L390.32 218.86 L389.87 219.58 L389.41 220.31 L388.95 221.03 L388.49 221.75 L388.01 222.47 L387.51 223.20 L387.00 223.92 L386.48 224.64 L385.94 225.37 L385.39 226.09 L384.82 226.81 L384.25 227.53 L383.66 228.26 L383.05 228.98 L382.44 229.70 L381.81 230.43 L381.17 231.15 L380.52 231.87 L379.86 232.60 L379.18 233.32 L378.50 234.04 L377.80 234.76 L377.09 235.49 L376.38 236.21 L375.65 236.93 L374.91 237.66 L374.16 238.38 L373.40 239.10 L372.64 239.82 L371.86 240.55 L371.08 241.27 L370.28 241.99 L369.48 242.72 L368.67 243.44 L367.85 244.16 L367.03 244.88 L366.19 245.61 L365.35 246.33 L364.50 247.05 L363.65 247.78 L362.79 248.50 L361.92 249.22 L361.04 249.94 L360.16 250.67 L359.28 251.39 L358.38 252.11 L357.48 252.84 L356.58 253.56 L355.67 254.28 L354.76 255.00 L353.84 255.73 L352.92 256.45 L351.99 257.17 L351.06 257.90 L350.13 258.62 L349.19 259.34 L348.25 260.06 L347.30 260.79 L346.34 261.51 L345.36 262.23 L344.37 262.96 L343.37 263.68 L342.35 264.40 L341.32 265.12 L340.28 265.85 L339.22 266.57 L338.15 267.29 L337.07 268.02 L335.97 268.74 L334.87 269.46 L333.75 270.18 L332.62 270.91 L331.47 271.63 L330.32 272.35 L329.15 273.08 L327.97 273.80 L326.78 274.52 L325.58 275.24 L324.37 275.97 L323.15 276.69 L321.91 277.41 L320.66 278.14 L319.41 278.86 L318.14 279.58 L316.86 280.31 L315.58 281.03 L314.28 281.75 L312.97 282.47 L311.65 283.20 L310.32 283.92 L308.99 284.64 L307.64 285.37 L306.28 286.09 L304.92 286.81 L303.54 287.53 L302.16 288.26 L300.76 288.98 L299.36 289.70 L297.95 290.43 L296.53 291.15 L295.10 291.87 L293.67 292.59 L292.23 293.32 L290.77 294.04 L289.31 294.76 L287.85 295.49 L286.37 296.21 L284.89 296.93 L283.40 297.65 L281.90 298.38 L280.40 299.10" stroke="#6aa296"/>
<path d="M66.70 299.10 L67.83 297.98 L68.97 296.83 L70.10 295.66 L71.24 294.48 L72.37 293.28 L73.51 292.08 L74.64 290.86 L75.78 289.64 L76.91 288.41 L78.04 287.17 L79.18 285.93 L80.31 284.69 L81.45 283.44 L82.58 282.19 L83.72 280.94 L84.85 279.69 L85.99 278.44 L87.12 277.19 L88.25 275.95 L89.39 274.71 L90.52 273.47 L91.66 272.24 L92.79 271.02 L93.93 269.80 L95.06 268.60 L96.20 267.40 L97.33 266.21 L98.46 265.03 L99.60 263.86 L100.73 262.71 L101.87 261.56 L103.00 260.43 L104.14 259.32 L105.27 258.22 L106.41 257.13 L107.54 256.06 L108.67 255.00 L109.81 253.96 L110.94 252.94 L112.08 251.93 L113.21 250.94 L114.35 249.97 L115.48 249.01 L116.62 248.08 L117.75 247.16 L118.88 246.26 L120.02 245.38 L121.15 244.51 L122.29 243.67 L123.42 242.84 L124.56 242.04 L125.69 241.25 L126.83 240.48 L127.96 239.72 L129.09 238.99 L130.23 238.28 L131.36 237.58 L132.50 236.90 L133.63 236.24 L134.77 235.60 L135.90 234.97 L137.04 234.36 L138.17 233.77 L139.30 233.20 L140.44 232.64 L141.57 232.10 L142.71 231.57 L143.84 231.06 L144.98 230.57 L146.11 230.09 L147.25 229.62 L148.38 229.17 L149.51 228.74 L150.65 228.32 L151.78 227.91 L152.92 227.51 L154.05 227.13 L155.19 226.76 L156.32 226.41 L157.46 226.06 L158.59 225.73 L159.72 225.41 L160.86 225.10 L161.99 224.81 L163.13 224.52 L164.26 224.24 L165.40 223.98 L166.53 223.72 L167.67 223.47 L168.80 223.23 L169.93 223.00 L171.07 222.78 L172.20 222.57 L173.34 222.37 L174.47 222.17 L175.61 221.98 L176.74 221.80 L177.88 221.63 L179.01 221.46 L180.14 221.30 L181.28 221.14 L182.41 220.99 L183.55 220.85 L184.68 220.71 L185.82 220.58 L186.95 220.46 L188.09 220.34 L189.22 220.22 L190.35 220.11 L191.49 220.00 L192.62 219.90 L193.76 219.80 L194.89 219.71 L196.03 219.62 L197.16 219.53 L198.30 219.45 L199.43 219.37 L200.56 219.29 L201.70 219.21 L202.83 219.14 L203.97 219.07 L205.10 219.01 L206.24 218.94 L207.37 218.88 L208.51 218.82 L209.64 218.76 L210.77 218.71 L211.91 218.65 L213.04 218.60 L214.18 218.55 L215.31 218.50 L216.45 218.45 L217.58 218.40 L218.72 218.35 L219.85 218.31 L220.98 218.26 L222.12 218.22 L223.25 218.18 L224.39 218.13 L225.52 218.09 L226.66 218.05 L227.79 218.01 L228.93 217.97 L230.06 217.93 L231.19 217.88 L232.33 217.84 L233.46 217.80 L234.60 217.76 L235.73 217.72 L236.87 217.68 L238.00 217.63 L239.14 217.59 L240.27 217.55 L241.41 217.50 L242.54 217.46 L243.67 217.41 L244.81 217.37 L245.94 217.32 L247.08 217.28 L248.21 217.23 L249.35 217.18 L250.48 217.13 L251.62 217.08 L252.75 217.02 L253.88 216.97 L255.02 216.92 L256.15 216.86 L257.29 216.80 L258.42 216.75 L259.56 216.69 L260.69 216.63 L261.83 216.56 L262.96 216.50 L264.09 216.44 L265.23 216.37 L266.36 216.30 L267.50 216.23 L268.63 216.16 L269.77 216.09 L270.90 216.01 L272.04 215.94 L273.17 215.86 L274.30 215.78 L275.44 215.70 L276.57 215.62 L277.71 215.53 L278.84 215.44 L279.98 215.36 L281.11 215.27 L282.25 215.17 L283.38 215.08 L284.51 214.98 L285.65 214.89 L286.78 214.79 L287.92 214.68 L289.05 214.58 L290.19 214.47 L291.32 214.37 L292.46 214.26 L293.59 214.14 L294.72 214.03 L295.86 213.91 L296.99 213.80 L298.13 213.67 L299.26 213.55 L300.40 213.43 L301.53 213.30 L302.67 213.17 L303.80 213.04 L304.93 212.91 L306.07 212.77 L307.20 212.63 L308.34 212.49 L309.47 212.35 L310.61 212.20 L311.74 212.06 L312.88 211.91 L314.01 211.76 L315.14 211.60 L316.28 211.45 L317.41 211.29 L318.55 211.13 L319.68 210.96 L320.82 210.80 L321.95 210.63 L323.09 210.46 L324.22 210.29 L325.35 210.11 L326.49 209.93 L327.62 209.75 L328.76 209.57 L329.89 209.39 L331.03 209.20 L332.16 209.01 L333.30 208.82 L334.43 208.62 L335.56 208.43 L336.70 208.23 L337.83 208.02 L338.97 207.82 L340.10 207.61 L341.24 207.40 L342.37 207.19 L343.51 206.98 L344.64 206.76 L345.77 206.54 L346.91 206.32 L348.04 206.10 L349.18 205.87 L350.31 205.64 L351.45 205.41 L352.58 205.18 L353.72 204.94 L354.85 204.70 L355.98 204.46 L357.12 204.22 L358.25 203.97 L359.39 203.72 L360.52 203.47 L361.66 203.21 L362.79 202.96 L363.93 202.70 L365.06 202.44 L366.19 202.17 L367.33 201.91 L368.46 201.64 L369.60 201.37 L370.73 201.09 L371.87 200.81 L373.00 200.53 L374.14 200.25 L375.27 199.97 L376.40 199.68 L377.54 199.39 L378.67 199.10 L379.81 198.81 L380.94 198.51 L382.08 198.21 L383.21 197.91 L384.35 197.60 L385.48 197.29 L386.61 196.98 L387.75 196.67 L388.88 196.36 L390.02 196.04 L391.15 195.72 L392.29 195.40 L393.42 195.07 L394.56 194.75 L395.69 194.41 L396.82 194.08 L397.96 193.75 L399.09 193.41 L400.23 193.07 L401.36 192.73 L402.50 192.38 L403.63 192.03 L404.77 191.68 L405.90 191.33 L405.90 202.32 L405.22 202.32 L405.05 202.97 L404.88 203.62 L404.69 204.27 L404.49 204.92 L404.29 205.57 L404.08 206.22 L403.85 206.86 L403.62 207.51 L403.38 208.16 L403.14 208.81 L402.88 209.46 L402.62 210.11 L402.34 210.76 L402.07 211.41 L401.78 212.06 L401.49 212.71 L401.19 213.36 L400.88 214.01 L400.56 214.66 L400.24 215.31 L399.91 215.96 L399.58 216.61 L399.24 217.26 L398.90 217.91 L398.54 218.56 L398.19 219.21 L397.82 219.86 L397.46 220.51 L397.08 221.15 L396.71 221.80 L396.32 222.45 L395.94 223.10 L395.54 223.75 L395.15 224.40 L394.75 225.05 L394.34 225.70 L393.94 226.35 L393.52 227.00 L393.11 227.65 L392.69 228.30 L392.27 228.95 L391.84 229.60 L391.40 230.25 L390.96 230.90 L390.50 231.55 L390.03 232.20 L389.55 232.85 L389.07 233.50 L388.57 234.15 L388.06 234.80 L387.55 235.44 L387.02 236.09 L386.49 236.74 L385.95 237.39 L385.39 238.04 L384.83 238.69 L384.26 239.34 L383.68 239.99 L383.09 240.64 L382.49 241.29 L381.88 241.94 L381.26 242.59 L380.64 243.24 L380.00 243.89 L379.36 244.54 L378.70 245.19 L378.04 245.84 L377.37 246.49 L376.69 247.14 L376.00 247.79 L375.30 248.44 L374.60 249.09 L373.88 249.73 L373.16 250.38 L372.43 251.03 L371.69 251.68 L370.94 252.33 L370.18 252.98 L369.42 253.63 L368.64 254.28 L367.86 254.93 L367.07 255.58 L366.27 256.23 L365.46 256.88 L364.64 257.53 L363.82 258.18 L362.99 258.83 L362.15 259.48 L361.30 260.13 L360.44 260.78 L359.58 261.43 L358.71 262.08 L357.83 262.73 L356.94 263.38 L356.04 264.02 L355.14 264.67 L354.22 265.32 L353.28 265.97 L352.32 266.62 L351.34 267.27 L350.33 267.92 L349.30 268.57 L348.26 269.22 L347.19 269.87 L346.10 270.52 L344.99 271.17 L343.86 271.82 L342.72 272.47 L341.55 273.12 L340.36 273.77 L339.16 274.42 L337.93 275.07 L336.69 275.72 L335.43 276.37 L334.15 277.02 L332.86 277.67 L331.55 278.31 L330.22 278.96 L328.87 279.61 L327.51 280.26 L326.13 280.91 L324.74 281.56 L323.33 282.21 L321.90 282.86 L320.46 283.51 L319.01 284.16 L317.54 284.81 L316.05 285.46 L314.55 286.11 L313.04 286.76 L311.52 287.41 L309.98 288.06 L308.43 288.71 L306.87 289.36 L305.29 290.01 L303.70 290.66 L302.10 291.31 L300.49 291.96 L298.87 292.60 L297.24 293.25 L295.59 293.90 L293.94 294.55 L292.28 295.20 L290.60 295.85 L288.92 296.50 L287.22 297.15 L285.52 297.80 L283.81 298.45 L282.09 299.10" stroke="#5d9ca4"/>
<path d="M66.70 299.10 L67.83 298.04 L68.97 296.96 L70.10 295.88 L71.24 294.79 L72.37 293.69 L73.51 292.59 L74.64 291.49 L75.78 290.38 L76.91 289.27 L78.04 288.16 L79.18 287.05 L80.31 285.93 L81.45 284.82 L82.58 283.71 L83.72 282.60 L84.85 281.49 L85.99 280.38 L87.12 279.28 L88.25 278.19 L89.39 277.10 L90.52 276.02 L91.66 274.94 L92.79 273.88 L93.93 272.82 L95.06 271.77 L96.20 270.73 L97.33 269.71 L98.46 268.70 L99.60 267.69 L100.73 266.71 L101.87 265.73 L103.00 264.77 L104.14 263.83 L105.27 262.90 L106.41 261.98 L107.54 261.09 L108.67 260.20 L109.81 259.34 L110.94 258.49 L112.08 257.66 L113.21 256.85 L114.35 256.06 L115.48 255.28 L116.62 254.53 L117.75 253.79 L118.88 253.07 L120.02 252.36 L121.15 251.68 L122.29 251.01 L123.42 250.36 L124.56 249.73 L125.69 249.12 L126.83 248.53 L127.96 247.95 L129.09 247.39 L130.23 246.84 L131.36 246.32 L132.50 245.81 L133.63 245.31 L134.77 244.83 L135.90 244.37 L137.04 243.92 L138.17 243.49 L139.30 243.07 L140.44 242.67 L141.57 242.28 L142.71 241.90 L143.84 241.54 L144.98 241.19 L146.11 240.85 L147.25 240.53 L148.38 240.22 L149.51 239.91 L150.65 239.62 L151.78 239.34 L152.92 239.08 L154.05 238.82 L155.19 238.57 L156.32 238.33 L157.46 238.10 L158.59 237.88 L159.72 237.66 L160.86 237.46 L161.99 237.26 L163.13 237.07 L164.26 236.89 L165.40 236.71 L166.53 236.55 L167.67 236.39 L168.80 236.23 L169.93 236.08 L171.07 235.94 L172.20 235.80 L173.34 235.67 L174.47 235.54 L175.61 235.42 L176.74 235.30 L177.88 235.19 L179.01 235.08 L180.14 234.98 L181.28 234.87 L182.41 234.78 L183.55 234.68 L184.68 234.59 L185.82 234.51 L186.95 234.42 L188.09 234.34 L189.22 234.26 L190.35 234.19 L191.49 234.11 L192.62 234.04 L193.76 233.97 L194.89 233.90 L196.03 233.84 L197.16 233.78 L198.30 233.71 L199.43 233.65 L200.56 233.59 L201.70 233.54 L202.83 233.48 L203.97 233.42 L205.10 233.37 L206.24 233.31 L207.37 233.26 L208.51 233.21 L209.64 233.16 L210.77 233.11 L211.91 233.06 L213.04 233.01 L214.18 232.96 L215.31 232.91 L216.45 232.86 L217.58 232.81 L218.72 232.76 L219.85 232.71 L220.98 232.66 L222.12 232.61 L223.25 232.56 L224.39 232.51 L225.52 232.45 L226.66 232.40 L227.79 232.35 L228.93 232.30 L230.06 232.25 L231.19 232.19 L232.33 232.14 L233.46 232.08 L234.60 232.03 L235.73 231.97 L236.87 231.91 L238.00 231.86 L239.14 231.80 L240.27 231.74 L241.41 231.68 L242.54 231.62 L243.67 231.55 L244.81 231.49 L245.94 231.42 L247.08 231.36 L248.21 231.29 L249.35 231.22 L250.48 231.15 L251.62 231.08 L252.75 231.01 L253.88 230.94 L255.02 230.86 L256.15 230.79 L257.29 230.71 L258.42 230.63 L259.56 230.55 L260.69 230.47 L261.83 230.39 L262.96 230.30 L264.09 230.22 L265.23 230.13 L266.36 230.04 L267.50 229.95 L268.63 229.86 L269.77 229.77 L270.90 229.67 L272.04 229.58 L273.17 229.48 L274.30 229.38 L275.44 229.28 L276.57 229.18 L277.71 229.07 L278.84 228.97 L279.98 228.86 L281.11 228.75 L282.25 228.64 L283.38 228.52 L284.51 228.41 L285.65 228.29 L286.78 228.18 L287.92 228.06 L289.05 227.94 L290.19 227.81 L291.32 227.69 L292.46 227.56 L293.59 227.43 L294.72 227.30 L295.86 227.17 L296.99 227.04 L298.13 226.90 L299.26 226.77 L300.40 226.63 L301.53 226.49 L302.67 226.34 L303.80 226.20 L304.93 226.05 L306.07 225.90 L307.20 225.75 L308.34 225.60 L309.47 225.45 L310.61 225.29 L311.74 225.14 L312.88 224.98 L314.01 224.82 L315.14 224.65 L316.28 224.49 L317.41 224.32 L318.55 224.15 L319.68 223.98 L320.82 223.81 L321.95 223.64 L323.09 223.46 L324.22 223.28 L325.35 223.10 L326.49 222.92 L327.62 222.74 L328.76 222.55 L329.89 222.36 L331.03 222.17 L332.16 221.98 L333.30 221.79 L334.43 221.59 L335.56 221.39 L336.70 221.20 L337.83 220.99 L338.97 220.79 L340.10 220.59 L341.24 220.38 L342.37 220.17 L343.51 219.96 L344.64 219.75 L345.77 219.53 L346.91 219.32 L348.04 219.10 L349.18 218.88 L350.31 218.65 L351.45 218.43 L352.58 218.20 L353.72 217.97 L354.85 217.74 L355.98 217.51 L357.12 217.28 L358.25 217.04 L359.39 216.80 L360.52 216.56 L361.66 216.32 L362.79 216.08 L363.93 215.83 L365.06 215.58 L366.19 215.33 L367.33 215.08 L368.46 214.83 L369.60 214.57 L370.73 214.31 L371.87 214.05 L373.00 213.79 L374.14 213.53 L375.27 213.26 L376.40 213.00 L377.54 212.73 L378.67 212.46 L379.81 212.18 L380.94 211.91 L382.08 211.63 L383.21 211.35 L384.35 211.07 L385.48 210.79 L386.61 210.50 L387.75 210.21 L388.88 209.93 L390.02 209.63 L391.15 209.34 L392.29 209.05 L393.42 208.75 L394.56 208.45 L395.69 208.15 L396.82 207.85 L397.96 207.54 L399.09 207.24 L400.23 206.93 L401.36 206.62 L402.50 206.31 L403.63 205.99 L404.77 205.67 L405.90 205.36 L405.90 213.25 L405.22 213.25 L405.10 213.82 L404.98 214.40 L404.84 214.97 L404.69 215.55 L404.53 216.13 L404.36 216.70 L404.18 217.28 L404.00 217.85 L403.80 218.43 L403.59 219.01 L403.38 219.58 L403.15 220.16 L402.92 220.74 L402.68 221.31 L402.43 221.89 L402.18 222.46 L401.92 223.04 L401.65 223.62 L401.37 224.19 L401.08 224.77 L400.79 225.35 L400.49 225.92 L400.19 226.50 L399.88 227.07 L399.56 227.65 L399.24 228.23 L398.92 228.80 L398.58 229.38 L398.25 229.96 L397.90 230.53 L397.56 231.11 L397.21 231.68 L396.85 232.26 L396.49 232.84 L396.13 233.41 L395.77 233.99 L395.40 234.56 L395.02 235.14 L394.65 235.72 L394.27 236.29 L393.89 236.87 L393.50 237.45 L393.10 238.02 L392.68 238.60 L392.25 239.17 L391.82 239.75 L391.37 240.33 L390.91 240.90 L390.44 241.48 L389.96 242.06 L389.46 242.63 L388.96 243.21 L388.44 243.78 L387.92 244.36 L387.38 244.94 L386.84 245.51 L386.28 246.09 L385.71 246.67 L385.13 247.24 L384.55 247.82 L383.95 248.39 L383.34 248.97 L382.72 249.55 L382.09 250.12 L381.46 250.70 L380.81 251.27 L380.15 251.85 L379.49 252.43 L378.81 253.00 L378.13 253.58 L377.43 254.16 L376.73 254.73 L376.02 255.31 L375.29 255.88 L374.56 256.46 L373.83 257.04 L373.08 257.61 L372.32 258.19 L371.56 258.77 L370.79 259.34 L370.01 259.92 L369.22 260.49 L368.42 261.07 L367.61 261.65 L366.80 262.22 L365.98 262.80 L365.15 263.38 L364.31 263.95 L363.47 264.53 L362.62 265.10 L361.76 265.68 L360.89 266.26 L360.02 266.83 L359.14 267.41 L358.25 267.98 L357.34 268.56 L356.42 269.14 L355.47 269.71 L354.50 270.29 L353.50 270.87 L352.49 271.44 L351.45 272.02 L350.39 272.59 L349.32 273.17 L348.22 273.75 L347.10 274.32 L345.97 274.90 L344.81 275.48 L343.63 276.05 L342.44 276.63 L341.22 277.20 L339.99 277.78 L338.74 278.36 L337.47 278.93 L336.19 279.51 L334.88 280.09 L333.56 280.66 L332.23 281.24 L330.87 281.81 L329.50 282.39 L328.11 282.97 L326.71 283.54 L325.29 284.12 L323.86 284.69 L322.41 285.27 L320.95 285.85 L319.47 286.42 L317.98 287.00 L316.47 287.58 L314.95 288.15 L313.41 288.73 L311.87 289.30 L310.31 289.88 L308.73 290.46 L307.15 291.03 L305.55 291.61 L303.94 292.19 L302.32 292.76 L300.69 293.34 L299.04 293.91 L297.39 294.49 L295.72 295.07 L294.05 295.64 L292.36 296.22 L290.67 296.80 L288.96 297.37 L287.25 297.95 L285.52 298.52 L283.79 299.10" stroke="#5c95a6"/>
<path d="M66.70 299.10 L67.83 298.18 L68.97 297.24 L70.10 296.29 L71.24 295.33 L72.37 294.36 L73.51 293.39 L74.64 292.43 L75.78 291.46 L76.91 290.49 L78.04 289.52 L79.18 288.56 L80.31 287.61 L81.45 286.66 L82.58 285.71 L83.72 284.78 L84.85 283.85 L85.99 282.94 L87.12 282.03 L88.25 281.13 L89.39 280.25 L90.52 279.38 L91.66 278.52 L92.79 277.68 L93.93 276.84 L95.06 276.03 L96.20 275.22 L97.33 274.43 L98.46 273.66 L99.60 272.90 L100.73 272.15 L101.87 271.43 L103.00 270.71 L104.14 270.01 L105.27 269.33 L106.41 268.66 L107.54 268.01 L108.67 267.38 L109.81 266.75 L110.94 266.15 L112.08 265.56 L113.21 264.98 L114.35 264.42 L115.48 263.88 L116.62 263.35 L117.75 262.83 L118.88 262.33 L120.02 261.84 L121.15 261.37 L122.29 260.90 L123.42 260.46 L124.56 260.02 L125.69 259.60 L126.83 259.19 L127.96 258.80 L129.09 258.41 L130.23 258.04 L131.36 257.68 L132.50 257.33 L133.63 256.99 L134.77 256.66 L135.90 256.35 L137.04 256.04 L138.17 255.75 L139.30 255.46 L140.44 255.18 L141.57 254.92 L142.71 254.66 L143.84 254.41 L144.98 254.17 L146.11 253.93 L147.25 253.71 L148.38 253.49 L149.51 253.28 L150.65 253.08 L151.78 252.89 L152.92 252.70 L154.05 252.52 L155.19 252.35 L156.32 252.18 L157.46 252.02 L158.59 251.86 L159.72 251.71 L160.86 251.57 L161.99 251.43 L163.13 251.30 L164.26 251.17 L165.40 251.05 L166.53 250.93 L167.67 250.81 L168.80 250.70 L169.93 250.60 L171.07 250.50 L172.20 250.40 L173.34 250.31 L174.47 250.21 L175.61 250.13 L176.74 250.04 L177.88 249.96 L179.01 249.89 L180.14 249.81 L181.28 249.74 L182.41 249.67 L183.55 249.60 L184.68 249.54 L185.82 249.48 L186.95 249.42 L188.09 249.36 L189.22 249.30 L190.35 249.25 L191.49 249.20 L192.62 249.15 L193.76 249.10 L194.89 249.05 L196.03 249.00 L197.16 248.96 L198.30 248.92 L199.43 248.87 L200.56 248.83 L201.70 248.79 L202.83 248.75 L203.97 248.72 L205.10 248.68 L206.24 248.64 L207.37 248.60 L208.51 248.57 L209.64 248.53 L210.77 248.50 L211.91 248.46 L213.04 248.43 L214.18 248.39 L215.31 248.36 L216.45 248.33 L217.58 248.29 L218.72 248.26 L219.85 248.23 L220.98 248.19 L222.12 248.16 L223.25 248.12 L224.39 248.09 L225.52 248.05 L226.66 248.02 L227.79 247.98 L228.93 247.95 L230.06 247.91 L231.19 247.87 L232.33 247.84 L233.46 247.80 L234.60 247.76 L235.73 247.72 L236.87 247.68 L238.00 247.64 L239.14 247.60 L240.27 247.56 L241.41 247.52 L242.54 247.47 L243.67 247.43 L244.81 247.38 L245.94 247.34 L247.08 247.29 L248.21 247.24 L249.35 247.19 L250.48 247.14 L251.62 247.09 L252.75 247.04 L253.88 246.98 L255.02 246.93 L256.15 246.87 L257.29 246.82 L258.42 246.76 L259.56 246.70 L260.69 246.64 L261.83 246.58 L262.96 246.51 L264.09 246.45 L265.23 246.38 L266.36 246.31 L267.50 246.25 L268.63 246.18 L269.77 246.11 L270.90 246.03 L272.04 245.96 L273.17 245.88 L274.30 245.81 L275.44 245.73 L276.57 245.65 L277.71 245.57 L278.84 245.49 L279.98 245.40 L281.11 245.32 L282.25 245.23 L283.38 245.14 L284.51 245.05 L285.65 244.96 L286.78 244.86 L287.92 244.77 L289.05 244.67 L290.19 244.57 L291.32 244.47 L292.46 244.37 L293.59 244.27 L294.72 244.17 L295.86 244.06 L296.99 243.95 L298.13 243.84 L299.26 243.73 L300.40 243.62 L301.53 243.50 L302.67 243.39 L303.80 243.27 L304.93 243.15 L306.07 243.03 L307.20 242.90 L308.34 242.78 L309.47 242.65 L310.61 242.52 L311.74 242.39 L312.88 242.26 L314.01 242.13 L315.14 241.99 L316.28 241.85 L317.41 241.71 L318.55 241.57 L319.68 241.43 L320.82 241.29 L321.95 241.14 L323.09 240.99 L324.22 240.84 L325.35 240.69 L326.49 240.54 L327.62 240.38 L328.76 240.22 L329.89 240.07 L331.03 239.90 L332.16 239.74 L333.30 239.58 L334.43 239.41 L335.56 239.24 L336.70 239.07 L337.83 238.90 L338.97 238.73 L340.10 238.55 L341.24 238.37 L342.37 238.20 L343.51 238.01 L344.64 237.83 L345.77 237.65 L346.91 237.46 L348.04 237.27 L349.18 237.08 L350.31 236.89 L351.45 236.69 L352.58 236.50 L353.72 236.30 L354.85 236.10 L355.98 235.90 L357.12 235.69 L358.25 235.49 L359.39 235.28 L360.52 235.07 L361.66 234.86 L362.79 234.65 L363.93 234.43 L365.06 234.21 L366.19 233.99 L367.33 233.77 L368.46 233.55 L369.60 233.33 L370.73 233.10 L371.87 232.87 L373.00 232.64 L374.14 232.41 L375.27 232.17 L376.40 231.94 L377.54 231.70 L378.67 231.46 L379.81 231.22 L380.94 230.98 L382.08 230.73 L383.21 230.48 L384.35 230.23 L385.48 229.98 L386.61 229.73 L387.75 229.47 L388.88 229.22 L390.02 228.96 L391.15 228.70 L392.29 228.43 L393.42 228.17 L394.56 227.90 L395.69 227.63 L396.82 227.36 L397.96 227.09 L399.09 226.82 L400.23 226.54 L401.36 226.26 L402.50 225.98 L403.63 225.70 L404.77 225.41 L405.90 225.13 L405.90 230.42 L405.22 230.42 L405.11 230.88 L404.99 231.34 L404.86 231.80 L404.72 232.26 L404.57 232.72 L404.41 233.18 L404.24 233.64 L404.06 234.10 L403.87 234.56 L403.67 235.03 L403.47 235.49 L403.25 235.95 L403.03 236.41 L402.80 236.87 L402.56 237.33 L402.31 237.79 L402.06 238.25 L401.80 238.71 L401.53 239.17 L401.26 239.64 L400.98 240.10 L400.69 240.56 L400.40 241.02 L400.10 241.48 L399.80 241.94 L399.49 242.40 L399.18 242.86 L398.86 243.32 L398.53 243.78 L398.21 244.24 L397.87 244.71 L397.54 245.17 L397.20 245.63 L396.86 246.09 L396.51 246.55 L396.16 247.01 L395.81 247.47 L395.46 247.93 L395.09 248.39 L394.71 248.85 L394.32 249.32 L393.91 249.78 L393.50 250.24 L393.07 250.70 L392.64 251.16 L392.19 251.62 L391.73 252.08 L391.26 252.54 L390.78 253.00 L390.28 253.46 L389.78 253.93 L389.27 254.39 L388.74 254.85 L388.21 255.31 L387.67 255.77 L387.11 256.23 L386.55 256.69 L385.97 257.15 L385.39 257.61 L384.80 258.07 L384.19 258.53 L383.58 259.00 L382.96 259.46 L382.33 259.92 L381.69 260.38 L381.04 260.84 L380.38 261.30 L379.71 261.76 L379.04 262.22 L378.35 262.68 L377.66 263.14 L376.96 263.61 L376.25 264.07 L375.53 264.53 L374.80 264.99 L374.07 265.45 L373.33 265.91 L372.58 266.37 L371.82 266.83 L371.06 267.29 L370.28 267.75 L369.50 268.22 L368.72 268.68 L367.92 269.14 L367.12 269.60 L366.31 270.06 L365.50 270.52 L364.67 270.98 L363.85 271.44 L363.01 271.90 L362.17 272.36 L361.32 272.82 L360.45 273.29 L359.56 273.75 L358.65 274.21 L357.72 274.67 L356.77 275.13 L355.80 275.59 L354.81 276.05 L353.81 276.51 L352.78 276.97 L351.73 277.43 L350.67 277.90 L349.59 278.36 L348.49 278.82 L347.37 279.28 L346.24 279.74 L345.08 280.20 L343.91 280.66 L342.73 281.12 L341.52 281.58 L340.30 282.04 L339.07 282.51 L337.81 282.97 L336.55 283.43 L335.26 283.89 L333.96 284.35 L332.65 284.81 L331.32 285.27 L329.97 285.73 L328.61 286.19 L327.24 286.65 L325.85 287.11 L324.45 287.58 L323.03 288.04 L321.60 288.50 L320.16 288.96 L318.71 289.42 L317.24 289.88 L315.76 290.34 L314.26 290.80 L312.76 291.26 L311.24 291.72 L309.71 292.19 L308.17 292.65 L306.61 293.11 L305.05 293.57 L303.47 294.03 L301.89 294.49 L300.29 294.95 L298.69 295.41 L297.07 295.87 L295.44 296.33 L293.81 296.80 L292.16 297.26 L290.50 297.72 L288.84 298.18 L287.17 298.64 L285.48 299.10" stroke="#5a8fac"/>
<path d="M66.70 299.10 L67.83 298.20 L68.97 297.28 L70.10 296.35 L71.24 295.41 L72.37 294.48 L73.51 293.56 L74.64 292.64 L75.78 291.73 L76.91 290.83 L78.04 289.95 L79.18 289.08 L80.31 288.23 L81.45 287.40 L82.58 286.58 L83.72 285.78 L84.85 284.99 L85.99 284.23 L87.12 283.48 L88.25 282.76 L89.39 282.05 L90.52 281.36 L91.66 280.69 L92.79 280.04 L93.93 279.40 L95.06 278.79 L96.20 278.19 L97.33 277.61 L98.46 277.05 L99.60 276.50 L100.73 275.97 L101.87 275.46 L103.00 274.97 L104.14 274.49 L105.27 274.02 L106.41 273.58 L107.54 273.14 L108.67 272.72 L109.81 272.32 L110.94 271.93 L112.08 271.55 L113.21 271.19 L114.35 270.84 L115.48 270.50 L116.62 270.17 L117.75 269.86 L118.88 269.55 L120.02 269.26 L121.15 268.98 L122.29 268.71 L123.42 268.45 L124.56 268.19 L125.69 267.95 L126.83 267.72 L127.96 267.49 L129.09 267.28 L130.23 267.07 L131.36 266.87 L132.50 266.68 L133.63 266.50 L134.77 266.32 L135.90 266.15 L137.04 265.99 L138.17 265.83 L139.30 265.68 L140.44 265.54 L141.57 265.40 L142.71 265.27 L143.84 265.14 L144.98 265.02 L146.11 264.90 L147.25 264.79 L148.38 264.68 L149.51 264.58 L150.65 264.48 L151.78 264.38 L152.92 264.29 L154.05 264.21 L155.19 264.12 L156.32 264.04 L157.46 263.97 L158.59 263.89 L159.72 263.82 L160.86 263.76 L161.99 263.69 L163.13 263.63 L164.26 263.57 L165.40 263.52 L166.53 263.46 L167.67 263.41 L168.80 263.36 L169.93 263.31 L171.07 263.27 L172.20 263.22 L173.34 263.18 L174.47 263.14 L175.61 263.10 L176.74 263.06 L177.88 263.03 L179.01 262.99 L180.14 262.96 L181.28 262.92 L182.41 262.89 L183.55 262.86 L184.68 262.83 L185.82 262.80 L186.95 262.77 L188.09 262.74 L189.22 262.72 L190.35 262.69 L191.49 262.66 L192.62 262.64 L193.76 262.61 L194.89 262.59 L196.03 262.56 L197.16 262.54 L198.30 262.51 L199.43 262.49 L200.56 262.46 L201.70 262.44 L202.83 262.41 L203.97 262.39 L205.10 262.36 L206.24 262.34 L207.37 262.31 L208.51 262.29 L209.64 262.26 L210.77 262.24 L211.91 262.21 L213.04 262.18 L214.18 262.16 L215.31 262.13 L216.45 262.10 L217.58 262.07 L218.72 262.04 L219.85 262.01 L220.98 261.98 L222.12 261.95 L223.25 261.92 L224.39 261.89 L225.52 261.85 L226.66 261.82 L227.79 261.78 L228.93 261.75 L230.06 261.71 L231.19 261.67 L232.33 261.64 L233.46 261.60 L234.60 261.56 L235.73 261.51 L236.87 261.47 L238.00 261.43 L239.14 261.39 L240.27 261.34 L241.41 261.29 L242.54 261.25 L243.67 261.20 L244.81 261.15 L245.94 261.10 L247.08 261.05 L248.21 261.00 L249.35 260.94 L250.48 260.89 L251.62 260.83 L252.75 260.77 L253.88 260.71 L255.02 260.65 L256.15 260.59 L257.29 260.53 L258.42 260.47 L259.56 260.40 L260.69 260.34 L261.83 260.27 L262.96 260.20 L264.09 260.13 L265.23 260.06 L266.36 259.99 L267.50 259.91 L268.63 259.84 L269.77 259.76 L270.90 259.68 L272.04 259.61 L273.17 259.53 L274.30 259.44 L275.44 259.36 L276.57 259.27 L277.71 259.19 L278.84 259.10 L279.98 259.01 L281.11 258.92 L282.25 258.83 L283.38 258.74 L284.51 258.64 L285.65 258.55 L286.78 258.45 L287.92 258.35 L289.05 258.25 L290.19 258.15 L291.32 258.04 L292.46 257.94 L293.59 257.83 L294.72 257.72 L295.86 257.61 L296.99 257.50 L298.13 257.39 L299.26 257.28 L300.40 257.16 L301.53 257.04 L302.67 256.93 L303.80 256.81 L304.93 256.68 L306.07 256.56 L307.20 256.44 L308.34 256.31 L309.47 256.18 L310.61 256.05 L311.74 255.92 L312.88 255.79 L314.01 255.66 L315.14 255.52 L316.28 255.38 L317.41 255.25 L318.55 255.11 L319.68 254.96 L320.82 254.82 L321.95 254.68 L323.09 254.53 L324.22 254.38 L325.35 254.23 L326.49 254.08 L327.62 253.93 L328.76 253.77 L329.89 253.62 L331.03 253.46 L332.16 253.30 L333.30 253.14 L334.43 252.98 L335.56 252.82 L336.70 252.65 L337.83 252.48 L338.97 252.32 L340.10 252.15 L341.24 251.98 L342.37 251.80 L343.51 251.63 L344.64 251.45 L345.77 251.27 L346.91 251.09 L348.04 250.91 L349.18 250.73 L350.31 250.55 L351.45 250.36 L352.58 250.17 L353.72 249.98 L354.85 249.79 L355.98 249.60 L357.12 249.41 L358.25 249.21 L359.39 249.02 L360.52 248.82 L361.66 248.62 L362.79 248.42 L363.93 248.21 L365.06 248.01 L366.19 247.80 L367.33 247.59 L368.46 247.38 L369.60 247.17 L370.73 246.96 L371.87 246.74 L373.00 246.53 L374.14 246.31 L375.27 246.09 L376.40 245.87 L377.54 245.65 L378.67 245.42 L379.81 245.20 L380.94 244.97 L382.08 244.74 L383.21 244.51 L384.35 244.28 L385.48 244.05 L386.61 243.81 L387.75 243.58 L388.88 243.34 L390.02 243.10 L391.15 242.86 L392.29 242.61 L393.42 242.37 L394.56 242.12 L395.69 241.88 L396.82 241.63 L397.96 241.38 L399.09 241.12 L400.23 240.87 L401.36 240.61 L402.50 240.36 L403.63 240.10 L404.77 239.84 L405.90 239.58 L405.90 242.90 L405.22 242.90 L405.12 243.26 L405.00 243.61 L404.87 243.97 L404.72 244.32 L404.57 244.67 L404.40 245.03 L404.21 245.38 L404.02 245.74 L403.81 246.09 L403.59 246.45 L403.36 246.80 L403.12 247.15 L402.87 247.51 L402.61 247.86 L402.33 248.22 L402.05 248.57 L401.76 248.92 L401.46 249.28 L401.14 249.63 L400.82 249.99 L400.49 250.34 L400.15 250.69 L399.81 251.05 L399.45 251.40 L399.09 251.76 L398.72 252.11 L398.34 252.46 L397.96 252.82 L397.56 253.17 L397.17 253.53 L396.76 253.88 L396.35 254.24 L395.93 254.59 L395.51 254.94 L395.09 255.30 L394.65 255.65 L394.22 256.01 L393.78 256.36 L393.33 256.71 L392.88 257.07 L392.43 257.42 L391.97 257.78 L391.51 258.13 L391.05 258.48 L390.58 258.84 L390.11 259.19 L389.64 259.55 L389.17 259.90 L388.70 260.26 L388.20 260.61 L387.69 260.96 L387.15 261.32 L386.60 261.67 L386.03 262.03 L385.44 262.38 L384.83 262.73 L384.20 263.09 L383.56 263.44 L382.90 263.80 L382.23 264.15 L381.53 264.50 L380.83 264.86 L380.11 265.21 L379.37 265.57 L378.62 265.92 L377.86 266.27 L377.08 266.63 L376.30 266.98 L375.50 267.34 L374.68 267.69 L373.86 268.05 L373.03 268.40 L372.18 268.75 L371.33 269.11 L370.46 269.46 L369.59 269.82 L368.71 270.17 L367.82 270.52 L366.92 270.88 L366.02 271.23 L365.10 271.59 L364.19 271.94 L363.26 272.29 L362.33 272.65 L361.40 273.00 L360.46 273.36 L359.52 273.71 L358.57 274.07 L357.61 274.42 L356.64 274.77 L355.65 275.13 L354.64 275.48 L353.61 275.84 L352.57 276.19 L351.51 276.54 L350.43 276.90 L349.33 277.25 L348.22 277.61 L347.09 277.96 L345.94 278.31 L344.77 278.67 L343.59 279.02 L342.40 279.38 L341.18 279.73 L339.95 280.09 L338.71 280.44 L337.45 280.79 L336.17 281.15 L334.88 281.50 L333.57 281.86 L332.25 282.21 L330.91 282.56 L329.56 282.92 L328.19 283.27 L326.81 283.63 L325.41 283.98 L324.00 284.33 L322.57 284.69 L321.13 285.04 L319.69 285.40 L318.23 285.75 L316.76 286.10 L315.28 286.46 L313.77 286.81 L312.24 287.17 L310.67 287.52 L309.07 287.88 L307.42 288.23 L305.72 288.58 L303.98 288.94 L302.17 289.29 L300.29 289.65 L298.35 290.00 L296.33 290.35 L294.24 290.71 L292.05 291.06 L289.79 291.42 L287.50 291.77 L285.14 292.12 L282.64 292.48 L279.94 292.83 L276.96 293.19 L273.62 293.54 L269.87 293.90 L265.63 294.25 L260.52 294.60 L253.17 294.96 L244.22 295.31 L234.60 295.67" stroke="#5884b2"/>
<path d="M66.70 299.10 L67.83 298.22 L68.97 297.34 L70.10 296.45 L71.24 295.58 L72.37 294.71 L73.51 293.86 L74.64 293.03 L75.78 292.21 L76.91 291.41 L78.04 290.63 L79.18 289.87 L80.31 289.13 L81.45 288.41 L82.58 287.71 L83.72 287.03 L84.85 286.37 L85.99 285.73 L87.12 285.10 L88.25 284.50 L89.39 283.92 L90.52 283.35 L91.66 282.80 L92.79 282.27 L93.93 281.76 L95.06 281.27 L96.20 280.79 L97.33 280.33 L98.46 279.88 L99.60 279.45 L100.73 279.04 L101.87 278.63 L103.00 278.25 L104.14 277.87 L105.27 277.51 L106.41 277.17 L107.54 276.83 L108.67 276.51 L109.81 276.20 L110.94 275.90 L112.08 275.61 L113.21 275.33 L114.35 275.07 L115.48 274.81 L116.62 274.56 L117.75 274.33 L118.88 274.10 L120.02 273.88 L121.15 273.66 L122.29 273.46 L123.42 273.27 L124.56 273.08 L125.69 272.90 L126.83 272.72 L127.96 272.56 L129.09 272.40 L130.23 272.24 L131.36 272.09 L132.50 271.95 L133.63 271.82 L134.77 271.69 L135.90 271.56 L137.04 271.44 L138.17 271.32 L139.30 271.21 L140.44 271.11 L141.57 271.01 L142.71 270.91 L143.84 270.82 L144.98 270.73 L146.11 270.64 L147.25 270.56 L148.38 270.48 L149.51 270.41 L150.65 270.33 L151.78 270.27 L152.92 270.20 L154.05 270.14 L155.19 270.08 L156.32 270.02 L157.46 269.96 L158.59 269.91 L159.72 269.86 L160.86 269.81 L161.99 269.77 L163.13 269.72 L164.26 269.68 L165.40 269.64 L166.53 269.60 L167.67 269.56 L168.80 269.53 L169.93 269.49 L171.07 269.46 L172.20 269.43 L173.34 269.40 L174.47 269.37 L175.61 269.34 L176.74 269.32 L177.88 269.29 L179.01 269.27 L180.14 269.24 L181.28 269.22 L182.41 269.20 L183.55 269.17 L184.68 269.15 L185.82 269.13 L186.95 269.11 L188.09 269.09 L189.22 269.08 L190.35 269.06 L191.49 269.04 L192.62 269.02 L193.76 269.00 L194.89 268.99 L196.03 268.97 L197.16 268.95 L198.30 268.94 L199.43 268.92 L200.56 268.90 L201.70 268.89 L202.83 268.87 L203.97 268.85 L205.10 268.84 L206.24 268.82 L207.37 268.80 L208.51 268.79 L209.64 268.77 L210.77 268.75 L211.91 268.74 L213.04 268.72 L214.18 268.70 L215.31 268.68 L216.45 268.66 L217.58 268.64 L218.72 268.62 L219.85 268.60 L220.98 268.58 L222.12 268.56 L223.25 268.54 L224.39 268.52 L225.52 268.50 L226.66 268.47 L227.79 268.45 L228.93 268.43 L230.06 268.40 L231.19 268.38 L232.33 268.35 L233.46 268.32 L234.60 268.30 L235.73 268.27 L236.87 268.24 L238.00 268.21 L239.14 268.18 L240.27 268.15 L241.41 268.12 L242.54 268.09 L243.67 268.06 L244.81 268.02 L245.94 267.99 L247.08 267.95 L248.21 267.92 L249.35 267.88 L250.48 267.84 L251.62 267.80 L252.75 267.77 L253.88 267.73 L255.02 267.68 L256.15 267.64 L257.29 267.60 L258.42 267.56 L259.56 267.51 L260.69 267.47 L261.83 267.42 L262.96 267.37 L264.09 267.33 L265.23 267.28 L266.36 267.23 L267.50 267.18 L268.63 267.12 L269.77 267.07 L270.90 267.02 L272.04 266.96 L273.17 266.91 L274.30 266.85 L275.44 266.79 L276.57 266.73 L277.71 266.67 L278.84 266.61 L279.98 266.55 L281.11 266.49 L282.25 266.42 L283.38 266.36 L284.51 266.29 L285.65 266.23 L286.78 266.16 L287.92 266.09 L289.05 266.02 L290.19 265.95 L291.32 265.88 L292.46 265.80 L293.59 265.73 L294.72 265.65 L295.86 265.58 L296.99 265.50 L298.13 265.42 L299.26 265.34 L300.40 265.26 L301.53 265.18 L302.67 265.10 L303.80 265.01 L304.93 264.93 L306.07 264.84 L307.20 264.75 L308.34 264.67 L309.47 264.58 L310.61 264.49 L311.74 264.39 L312.88 264.30 L314.01 264.21 L315.14 264.11 L316.28 264.02 L317.41 263.92 L318.55 263.82 L319.68 263.72 L320.82 263.62 L321.95 263.52 L323.09 263.41 L324.22 263.31 L325.35 263.21 L326.49 263.10 L327.62 262.99 L328.76 262.88 L329.89 262.77 L331.03 262.66 L332.16 262.55 L333.30 262.44 L334.43 262.32 L335.56 262.21 L336.70 262.09 L337.83 261.97 L338.97 261.85 L340.10 261.73 L341.24 261.61 L342.37 261.49 L343.51 261.37 L344.64 261.24 L345.77 261.12 L346.91 260.99 L348.04 260.86 L349.18 260.73 L350.31 260.60 L351.45 260.47 L352.58 260.34 L353.72 260.21 L354.85 260.07 L355.98 259.93 L357.12 259.80 L358.25 259.66 L359.39 259.52 L360.52 259.38 L361.66 259.24 L362.79 259.09 L363.93 258.95 L365.06 258.80 L366.19 258.66 L367.33 258.51 L368.46 258.36 L369.60 258.21 L370.73 258.06 L371.87 257.91 L373.00 257.75 L374.14 257.60 L375.27 257.44 L376.40 257.29 L377.54 257.13 L378.67 256.97 L379.81 256.81 L380.94 256.65 L382.08 256.49 L383.21 256.32 L384.35 256.16 L385.48 255.99 L386.61 255.82 L387.75 255.66 L388.88 255.49 L390.02 255.32 L391.15 255.14 L392.29 254.97 L393.42 254.80 L394.56 254.62 L395.69 254.44 L396.82 254.27 L397.96 254.09 L399.09 253.91 L400.23 253.73 L401.36 253.54 L402.50 253.36 L403.63 253.18 L404.77 252.99 L405.90 252.80 L405.90 252.89 L405.51 253.20 L405.10 253.51 L404.69 253.82 L404.27 254.13 L403.84 254.44 L403.40 254.76 L402.95 255.07 L402.50 255.38 L402.03 255.69 L401.56 256.00 L401.08 256.31 L400.60 256.62 L400.10 256.93 L399.60 257.24 L399.09 257.55 L398.58 257.86 L398.05 258.17 L397.52 258.48 L396.99 258.79 L396.44 259.10 L395.89 259.41 L395.34 259.72 L394.78 260.03 L394.21 260.34 L393.63 260.65 L393.06 260.96 L392.47 261.27 L391.88 261.58 L391.28 261.89 L390.68 262.20 L390.08 262.51 L389.47 262.82 L388.85 263.13 L388.23 263.44 L387.61 263.75 L386.98 264.06 L386.35 264.37 L385.71 264.68 L385.07 264.99 L384.41 265.30 L383.75 265.61 L383.07 265.92 L382.38 266.23 L381.67 266.54 L380.96 266.85 L380.23 267.16 L379.50 267.47 L378.75 267.78 L378.00 268.09 L377.23 268.40 L376.46 268.71 L375.68 269.02 L374.89 269.33 L374.09 269.64 L373.28 269.95 L372.46 270.26 L371.64 270.57 L370.81 270.88 L369.98 271.19 L369.14 271.50 L368.29 271.81 L367.43 272.12 L366.57 272.43 L365.71 272.74 L364.84 273.05 L363.97 273.36 L363.09 273.67 L362.21 273.98 L361.32 274.29 L360.43 274.60 L359.52 274.91 L358.60 275.22 L357.68 275.53 L356.74 275.84 L355.79 276.15 L354.84 276.46 L353.87 276.77 L352.90 277.08 L351.91 277.39 L350.92 277.70 L349.92 278.01 L348.92 278.32 L347.90 278.63 L346.88 278.94 L345.85 279.25 L344.82 279.56 L343.78 279.87 L342.73 280.18 L341.68 280.49 L340.62 280.80 L339.56 281.11 L338.49 281.42 L337.42 281.73 L336.34 282.04 L335.26 282.35 L334.18 282.66 L333.09 282.97 L332.00 283.28 L330.90 283.59 L329.78 283.90 L328.63 284.21 L327.46 284.53 L326.27 284.84 L325.05 285.15 L323.83 285.46 L322.59 285.77 L321.35 286.08 L320.11 286.39 L318.87 286.70 L317.63 287.01 L316.40 287.32 L315.18 287.63 L313.98 287.94 L312.80 288.25 L311.64 288.56 L310.52 288.87 L309.42 289.18 L308.35 289.49 L307.33 289.80 L306.32 290.11 L305.33 290.42 L304.36 290.73 L303.40 291.04 L302.45 291.35 L301.52 291.66 L300.60 291.97 L299.70 292.28 L298.82 292.59 L297.95 292.90 L297.11 293.21 L296.27 293.52 L295.46 293.83 L294.66 294.14 L293.89 294.45 L293.12 294.76 L292.37 295.07 L291.63 295.38 L290.90 295.69 L290.18 296.00 L289.48 296.31 L288.79 296.62 L288.11 296.93 L287.45 297.24 L286.80 297.55 L286.17 297.86 L285.55 298.17 L284.94 298.48 L284.36 298.79 L283.79 299.10" stroke="#5275b6"/>
<path d="M66.70 299.10 L67.83 298.43 L68.97 297.74 L70.10 297.05 L71.24 296.34 L72.37 295.63 L73.51 294.92 L74.64 294.20 L75.78 293.49 L76.91 292.77 L78.04 292.06 L79.18 291.35 L80.31 290.64 L81.45 289.95 L82.58 289.26 L83.72 288.58 L84.85 287.91 L85.99 287.25 L87.12 286.60 L88.25 285.97 L89.39 285.35 L90.52 284.75 L91.66 284.17 L92.79 283.60 L93.93 283.04 L95.06 282.51 L96.20 281.99 L97.33 281.49 L98.46 281.01 L99.60 280.55 L100.73 280.11 L101.87 279.68 L103.00 279.27 L104.14 278.88 L105.27 278.51 L106.41 278.15 L107.54 277.82 L108.67 277.49 L109.81 277.19 L110.94 276.90 L112.08 276.62 L113.21 276.36 L114.35 276.11 L115.48 275.88 L116.62 275.66 L117.75 275.45 L118.88 275.26 L120.02 275.08 L121.15 274.90 L122.29 274.74 L123.42 274.59 L124.56 274.45 L125.69 274.31 L126.83 274.19 L127.96 274.07 L129.09 273.96 L130.23 273.86 L131.36 273.77 L132.50 273.68 L133.63 273.60 L134.77 273.53 L135.90 273.46 L137.04 273.39 L138.17 273.34 L139.30 273.28 L140.44 273.23 L141.57 273.19 L142.71 273.15 L143.84 273.11 L144.98 273.07 L146.11 273.04 L147.25 273.01 L148.38 272.99 L149.51 272.97 L150.65 272.95 L151.78 272.93 L152.92 272.91 L154.05 272.90 L155.19 272.89 L156.32 272.88 L157.46 272.87 L158.59 272.86 L159.72 272.86 L160.86 272.85 L161.99 272.85 L163.13 272.85 L164.26 272.85 L165.40 272.85 L166.53 272.85 L167.67 272.85 L168.80 272.85 L169.93 272.85 L171.07 272.85 L172.20 272.85 L173.34 272.86 L174.47 272.86 L175.61 272.86 L176.74 272.86 L177.88 272.87 L179.01 272.87 L180.14 272.87 L181.28 272.88 L182.41 272.88 L183.55 272.88 L184.68 272.88 L185.82 272.88 L186.95 272.88 L188.09 272.88 L189.22 272.88 L190.35 272.88 L191.49 272.88 L192.62 272.88 L193.76 272.88 L194.89 272.88 L196.03 272.88 L197.16 272.87 L198.30 272.87 L199.43 272.86 L200.56 272.86 L201.70 272.85 L202.83 272.84 L203.97 272.84 L205.10 272.83 L206.24 272.82 L207.37 272.81 L208.51 272.80 L209.64 272.79 L210.77 272.77 L211.91 272.76 L213.04 272.75 L214.18 272.73 L215.31 272.72 L216.45 272.70 L217.58 272.68 L218.72 272.66 L219.85 272.64 L220.98 272.62 L222.12 272.60 L223.25 272.58 L224.39 272.56 L225.52 272.53 L226.66 272.51 L227.79 272.48 L228.93 272.45 L230.06 272.43 L231.19 272.40 L232.33 272.37 L233.46 272.34 L234.60 272.30 L235.73 272.27 L236.87 272.24 L238.00 272.20 L239.14 272.17 L240.27 272.13 L241.41 272.09 L242.54 272.05 L243.67 272.01 L244.81 271.97 L245.94 271.93 L247.08 271.89 L248.21 271.84 L249.35 271.80 L250.48 271.75 L251.62 271.70 L252.75 271.66 L253.88 271.61 L255.02 271.56 L256.15 271.51 L257.29 271.45 L258.42 271.40 L259.56 271.35 L260.69 271.29 L261.83 271.23 L262.96 271.18 L264.09 271.12 L265.23 271.06 L266.36 271.00 L267.50 270.94 L268.63 270.87 L269.77 270.81 L270.90 270.75 L272.04 270.68 L273.17 270.61 L274.30 270.55 L275.44 270.48 L276.57 270.41 L277.71 270.34 L278.84 270.26 L279.98 270.19 L281.11 270.12 L282.25 270.04 L283.38 269.97 L284.51 269.89 L285.65 269.81 L286.78 269.73 L287.92 269.65 L289.05 269.57 L290.19 269.49 L291.32 269.40 L292.46 269.32 L293.59 269.23 L294.72 269.15 L295.86 269.06 L296.99 268.97 L298.13 268.88 L299.26 268.79 L300.40 268.70 L301.53 268.61 L302.67 268.52 L303.80 268.42 L304.93 268.33 L306.07 268.23 L307.20 268.13 L308.34 268.03 L309.47 267.93 L310.61 267.83 L311.74 267.73 L312.88 267.63 L314.01 267.52 L315.14 267.42 L316.28 267.31 L317.41 267.21 L318.55 267.10 L319.68 266.99 L320.82 266.88 L321.95 266.77 L323.09 266.66 L324.22 266.55 L325.35 266.43 L326.49 266.32 L327.62 266.20 L328.76 266.09 L329.89 265.97 L331.03 265.85 L332.16 265.73 L333.30 265.61 L334.43 265.49 L335.56 265.37 L336.70 265.25 L337.83 265.12 L338.97 265.00 L340.10 264.87 L341.24 264.74 L342.37 264.61 L343.51 264.49 L344.64 264.36 L345.77 264.22 L346.91 264.09 L348.04 263.96 L349.18 263.83 L350.31 263.69 L351.45 263.56 L352.58 263.42 L353.72 263.28 L354.85 263.14 L355.98 263.00 L357.12 262.86 L358.25 262.72 L359.39 262.58 L360.52 262.43 L361.66 262.29 L362.79 262.14 L363.93 262.00 L365.06 261.85 L366.19 261.70 L367.33 261.55 L368.46 261.40 L369.60 261.25 L370.73 261.10 L371.87 260.95 L373.00 260.80 L374.14 260.64 L375.27 260.49 L376.40 260.33 L377.54 260.17 L378.67 260.01 L379.81 259.85 L380.94 259.69 L382.08 259.53 L383.21 259.37 L384.35 259.21 L385.48 259.04 L386.61 258.88 L387.75 258.71 L388.88 258.55 L390.02 258.38 L391.15 258.21 L392.29 258.04 L393.42 257.87 L394.56 257.70 L395.69 257.53 L396.82 257.36 L397.96 257.18 L399.09 257.01 L400.23 256.83 L401.36 256.66 L402.50 256.48 L403.63 256.30 L404.77 256.12 L405.90 255.94 L405.90 256.02 L405.64 256.22 L405.38 256.42 L405.11 256.62 L404.83 256.82 L404.55 257.02 L404.26 257.22 L403.97 257.42 L403.68 257.62 L403.38 257.82 L403.07 258.02 L402.76 258.22 L402.45 258.42 L402.13 258.62 L401.81 258.82 L401.48 259.02 L401.14 259.22 L400.81 259.42 L400.46 259.62 L400.12 259.82 L399.77 260.02 L399.41 260.22 L399.05 260.42 L398.69 260.62 L398.32 260.82 L397.95 261.02 L397.58 261.22 L397.20 261.42 L396.81 261.62 L396.43 261.82 L396.04 262.02 L395.64 262.22 L395.24 262.42 L394.84 262.62 L394.44 262.82 L394.03 263.02 L393.61 263.22 L393.20 263.42 L392.78 263.62 L392.35 263.82 L391.93 264.02 L391.50 264.22 L391.07 264.42 L390.63 264.62 L390.19 264.82 L389.75 265.02 L389.30 265.22 L388.86 265.42 L388.40 265.62 L387.95 265.82 L387.49 266.02 L387.03 266.22 L386.57 266.42 L386.11 266.62 L385.64 266.82 L385.17 267.02 L384.70 267.22 L384.22 267.42 L383.75 267.62 L383.27 267.82 L382.78 268.02 L382.30 268.22 L381.81 268.42 L381.33 268.62 L380.84 268.82 L380.34 269.02 L379.85 269.22 L379.35 269.42 L378.85 269.62 L378.35 269.82 L377.85 270.02 L377.35 270.22 L376.84 270.42 L376.33 270.62 L375.83 270.82 L375.32 271.02 L374.80 271.22 L374.27 271.42 L373.74 271.62 L373.19 271.82 L372.64 272.02 L372.07 272.22 L371.50 272.42 L370.92 272.62 L370.33 272.82 L369.74 273.03 L369.14 273.23 L368.53 273.43 L367.91 273.63 L367.28 273.83 L366.65 274.03 L366.02 274.23 L365.38 274.43 L364.73 274.63 L364.07 274.83 L363.42 275.03 L362.75 275.23 L362.08 275.43 L361.41 275.63 L360.74 275.83 L360.05 276.03 L359.37 276.23 L358.68 276.43 L357.99 276.63 L357.30 276.83 L356.60 277.03 L355.91 277.23 L355.21 277.43 L354.50 277.63 L353.80 277.83 L353.10 278.03 L352.39 278.23 L351.68 278.43 L350.98 278.63 L350.27 278.83 L349.56 279.03 L348.85 279.23 L348.15 279.43 L347.44 279.63 L346.74 279.83 L346.03 280.03 L345.33 280.23 L344.63 280.43 L343.93 280.63 L343.22 280.83 L342.51 281.03 L341.79 281.23 L341.08 281.43 L340.35 281.63 L339.63 281.83 L338.90 282.03 L338.17 282.23 L337.43 282.43 L336.69 282.63 L335.95 282.83 L335.20 283.03 L334.45 283.23 L333.70 283.43 L332.95 283.63 L332.19 283.83 L331.43 284.03 L330.67 284.23 L329.90 284.43 L329.14 284.63 L328.37 284.83 L327.60 285.03 L326.82 285.23 L326.05 285.43 L325.27 285.63 L324.49 285.83" stroke="#4a66b8"/>
<path d="M405.90 261.48 L405.46 261.65 L405.02 261.83 L404.58 262.00 L404.14 262.18 L403.70 262.35 L403.26 262.52 L402.81 262.70 L402.37 262.87 L401.93 263.05 L401.49 263.22 L401.05 263.39 L400.60 263.57 L400.16 263.74 L399.72 263.91 L399.28 264.09 L398.83 264.26 L398.39 264.44 L397.95 264.61 L397.50 264.78 L397.06 264.96 L396.61 265.13 L396.17 265.31 L395.73 265.48 L395.28 265.65 L394.84 265.83 L394.39 266.00 L393.95 266.18 L393.50 266.35 L393.05 266.52 L392.61 266.70 L392.16 266.87 L391.72 267.05 L391.27 267.22 L390.82 267.39 L390.38 267.57 L389.93 267.74 L389.48 267.91 L389.03 268.09 L388.59 268.26 L388.14 268.44 L387.69 268.61 L387.24 268.78 L386.79 268.96 L386.35 269.13 L385.90 269.31 L385.45 269.48 L385.00 269.65 L384.56 269.83 L384.12 270.00 L383.68 270.18 L383.24 270.35 L382.80 270.52 L382.37 270.70 L381.94 270.87 L381.51 271.04 L381.08 271.22 L380.65 271.39 L380.22 271.57 L379.79 271.74 L379.37 271.91 L378.94 272.09 L378.51 272.26 L378.08 272.44 L377.65 272.61 L377.22 272.78 L376.79 272.96 L376.36 273.13 L375.92 273.31 L375.49 273.48 L375.05 273.65 L374.61 273.83 L374.17 274.00 L373.72 274.18 L373.27 274.35 L372.82 274.52 L372.37 274.70 L371.91 274.87 L371.45 275.04 L370.98 275.22 L370.51 275.39 L370.04 275.57 L369.56 275.74 L369.08 275.91 L368.59 276.09 L368.10 276.26 L367.60 276.44 L367.09 276.61 L366.58 276.78 L366.07 276.96 L365.54 277.13 L365.01 277.31 L364.46 277.48 L363.87 277.65 L363.26 277.83 L362.62 278.00 L361.96 278.18 L361.28 278.35 L360.58 278.52 L359.87 278.70 L359.14 278.87 L358.39 279.04 L357.64 279.22 L356.88 279.39 L356.11 279.57 L355.34 279.74 L354.57 279.91 L353.79 280.09 L353.02 280.26 L352.25 280.44 L351.49 280.61 L350.73 280.78 L349.99 280.96 L349.25 281.13 L348.53 281.31 L347.83 281.48 L347.15 281.65 L346.48 281.83 L345.84 282.00 L345.22 282.18 L344.63 282.35 L344.07 282.52 L343.54 282.70 L343.04 282.87 L342.57 283.04 L342.14 283.22 L341.75 283.39 L341.40 283.57 L341.09 283.74 L340.83 283.91 L340.62 284.09 L340.44 284.26 L340.29 284.44 L340.17 284.61 L340.08 284.78 L339.99 284.96 L339.92 285.13 L339.86 285.31 L339.79 285.48 L339.71 285.65 L339.62 285.83 L339.51 286.00 L339.38 286.18 L339.21 286.35 L339.01 286.52 L338.77 286.70 L338.48 286.87 L338.14 287.04 L336.26 287.22 L332.29 287.39" stroke="#33409c" stroke-width="1.2"/>
<path d="M66.70 299.10 L67.83 298.60 L68.97 298.10 L70.10 297.58 L71.24 297.06 L72.37 296.53 L73.51 296.00 L74.64 295.47 L75.78 294.93 L76.91 294.40 L78.04 293.86 L79.18 293.33 L80.31 292.80 L81.45 292.27 L82.58 291.75 L83.72 291.23 L84.85 290.73 L85.99 290.23 L87.12 289.74 L88.25 289.27 L89.39 288.80 L90.52 288.35 L91.66 287.91 L92.79 287.49 L93.93 287.08 L95.06 286.69 L96.20 286.32 L97.33 285.96 L98.46 285.61 L99.60 285.29 L100.73 284.98 L101.87 284.68 L103.00 284.41 L104.14 284.14 L105.27 283.90 L106.41 283.66 L107.54 283.45 L108.67 283.24 L109.81 283.05 L110.94 282.87 L112.08 282.71 L113.21 282.55 L114.35 282.41 L115.48 282.27 L116.62 282.15 L117.75 282.03 L118.88 281.93 L120.02 281.83 L121.15 281.74 L122.29 281.65 L123.42 281.57 L124.56 281.50 L125.69 281.44 L126.83 281.37 L127.96 281.32 L129.09 281.27 L130.23 281.22 L131.36 281.17 L132.50 281.13 L133.63 281.10 L134.77 281.06 L135.90 281.03 L137.04 281.00 L138.17 280.98 L139.30 280.95 L140.44 280.93 L141.57 280.91 L142.71 280.89 L143.84 280.87 L144.98 280.85 L146.11 280.83 L147.25 280.82 L148.38 280.81 L149.51 280.79 L150.65 280.78 L151.78 280.77 L152.92 280.75 L154.05 280.74 L155.19 280.73 L156.32 280.72 L157.46 280.71 L158.59 280.70 L159.72 280.69 L160.86 280.67 L161.99 280.66 L163.13 280.65 L164.26 280.64 L165.40 280.63 L166.53 280.62 L167.67 280.60 L168.80 280.59 L169.93 280.58 L171.07 280.56 L172.20 280.55 L173.34 280.53 L174.47 280.52 L175.61 280.50 L176.74 280.48 L177.88 280.47 L179.01 280.45 L180.14 280.43 L181.28 280.41 L182.41 280.39 L183.55 280.37 L184.68 280.35 L185.82 280.33 L186.95 280.30 L188.09 280.28 L189.22 280.26 L190.35 280.23 L191.49 280.20 L192.62 280.18 L193.76 280.15 L194.89 280.12 L196.03 280.09 L197.16 280.06 L198.30 280.03 L199.43 280.00 L200.56 279.97 L201.70 279.94 L202.83 279.90 L203.97 279.87 L205.10 279.83 L206.24 279.79 L207.37 279.76 L208.51 279.72 L209.64 279.68 L210.77 279.64 L211.91 279.60 L213.04 279.56 L214.18 279.51 L215.31 279.47 L216.45 279.43 L217.58 279.38 L218.72 279.34 L219.85 279.29 L220.98 279.24 L222.12 279.19 L223.25 279.14 L224.39 279.09 L225.52 279.04 L226.66 278.99 L227.79 278.94 L228.93 278.88 L230.06 278.83 L231.19 278.77 L232.33 278.72 L233.46 278.66 L234.60 278.60 L235.73 278.54 L236.87 278.48 L238.00 278.42 L239.14 278.36 L240.27 278.30 L241.41 278.23 L242.54 278.17 L243.67 278.11 L244.81 278.04 L245.94 277.97 L247.08 277.91 L248.21 277.84 L249.35 277.77 L250.48 277.70 L251.62 277.63 L252.75 277.55 L253.88 277.48 L255.02 277.41 L256.15 277.33 L257.29 277.26 L258.42 277.18 L259.56 277.11 L260.69 277.03 L261.83 276.95 L262.96 276.87 L264.09 276.79 L265.23 276.71 L266.36 276.63 L267.50 276.54 L268.63 276.46 L269.77 276.38 L270.90 276.29 L272.04 276.21 L273.17 276.12 L274.30 276.03 L275.44 275.94 L276.57 275.85 L277.71 275.76 L278.84 275.67 L279.98 275.58 L281.11 275.49 L282.25 275.39 L283.38 275.30 L284.51 275.21 L285.65 275.11 L286.78 275.01 L287.92 274.92 L289.05 274.82 L290.19 274.72 L291.32 274.62 L292.46 274.52 L293.59 274.42 L294.72 274.31 L295.86 274.21 L296.99 274.11 L298.13 274.00 L299.26 273.90 L300.40 273.79 L301.53 273.69 L302.67 273.58 L303.80 273.47 L304.93 273.36 L306.07 273.25 L307.20 273.14 L308.34 273.03 L309.47 272.92 L310.61 272.80 L311.74 272.69 L312.88 272.57 L314.01 272.46 L315.14 272.34 L316.28 272.23 L317.41 272.11 L318.55 271.99 L319.68 271.87 L320.82 271.75 L321.95 271.63 L323.09 271.51 L324.22 271.39 L325.35 271.26 L326.49 271.14 L327.62 271.02 L328.76 270.89 L329.89 270.76 L331.03 270.64 L332.16 270.51 L333.30 270.38 L334.43 270.25 L335.56 270.12 L336.70 269.99 L337.83 269.86 L338.97 269.73 L340.10 269.60 L341.24 269.47 L342.37 269.33 L343.51 269.20 L344.64 269.06 L345.77 268.93 L346.91 268.79 L348.04 268.65 L349.18 268.51 L350.31 268.37 L351.45 268.23 L352.58 268.09 L353.72 267.95 L354.85 267.81 L355.98 267.67 L357.12 267.52 L358.25 267.38 L359.39 267.24 L360.52 267.09 L361.66 266.94 L362.79 266.80 L363.93 266.65 L365.06 266.50 L366.19 266.35 L367.33 266.20 L368.46 266.05 L369.60 265.90 L370.73 265.75 L371.87 265.60 L373.00 265.44 L374.14 265.29 L375.27 265.14 L376.40 264.98 L377.54 264.83 L378.67 264.67 L379.81 264.51 L380.94 264.35 L382.08 264.20 L383.21 264.04 L384.35 263.88 L385.48 263.72 L386.61 263.55 L387.75 263.39 L388.88 263.23 L390.02 263.07 L391.15 262.90 L392.29 262.74 L393.42 262.57 L394.56 262.41 L395.69 262.24 L396.82 262.07 L397.96 261.90 L399.09 261.74 L400.23 261.57 L401.36 261.40 L402.50 261.23 L403.63 261.05 L404.77 260.88 L405.90 260.71" stroke="#33409c" stroke-width="2.0"/>
<path d="M66.70 299.10 L67.83 298.13 L68.97 297.43 L70.10 296.85 L71.24 296.35 L72.37 295.92 L73.51 295.53 L74.64 295.18 L75.78 294.86 L76.91 294.58 L78.04 294.31 L79.18 294.07 L80.31 293.85 L81.45 293.64 L82.58 293.45 L83.72 293.27 L84.85 293.10 L85.99 292.95 L87.12 292.81 L88.25 292.67 L89.39 292.54 L90.52 292.43 L91.66 292.32 L92.79 292.21 L93.93 292.12 L95.06 292.03 L96.20 291.94 L97.33 291.86 L98.46 291.79 L99.60 291.72 L100.73 291.65 L101.87 291.59 L103.00 291.53 L104.14 291.48 L105.27 291.43 L106.41 291.38 L107.54 291.34 L108.67 291.30 L109.81 291.26 L110.94 291.23 L112.08 291.20 L113.21 291.17 L114.35 291.14 L115.48 291.11 L116.62 291.09 L117.75 291.07 L118.88 291.05 L120.02 291.03 L121.15 291.02 L122.29 291.00 L123.42 290.99 L124.56 290.98 L125.69 290.97 L126.83 290.96 L127.96 290.95 L129.09 290.94 L130.23 290.94 L131.36 290.93 L132.50 290.93 L133.63 290.93 L134.77 290.92 L135.90 290.92 L137.04 290.92 L138.17 290.92 L139.30 290.92 L140.44 290.92 L141.57 290.93 L142.71 290.93 L143.84 290.93 L144.98 290.93 L146.11 290.94 L147.25 290.94 L148.38 290.94 L149.51 290.95 L150.65 290.95 L151.78 290.96 L152.92 290.96 L154.05 290.97 L155.19 290.97 L156.32 290.98 L157.46 290.98 L158.59 290.99 L159.72 290.99 L160.86 291.00 L161.99 291.00 L163.13 291.00 L164.26 291.01 L165.40 291.01 L166.53 291.02 L167.67 291.02 L168.80 291.02 L169.93 291.03 L171.07 291.03 L172.20 291.03 L173.34 291.03 L174.47 291.04 L175.61 291.04 L176.74 291.04 L177.88 291.04 L179.01 291.04 L180.14 291.04 L181.28 291.04 L182.41 291.04 L183.55 291.03 L184.68 291.03 L185.82 291.03 L186.95 291.02 L188.09 291.02 L189.22 291.01 L190.35 291.01 L191.49 291.00 L192.62 290.99 L193.76 290.99 L194.89 290.98 L196.03 290.97 L197.16 290.96 L198.30 290.95 L199.43 290.94 L200.56 290.92 L201.70 290.91 L202.83 290.90 L203.97 290.88 L205.10 290.87 L206.24 290.85 L207.37 290.83 L208.51 290.81 L209.64 290.79 L210.77 290.77 L211.91 290.75 L213.04 290.73 L214.18 290.71 L215.31 290.68 L216.45 290.66 L217.58 290.63 L218.72 290.60 L219.85 290.58 L220.98 290.55 L222.12 290.52 L223.25 290.48 L224.39 290.45 L225.52 290.42 L226.66 290.38 L227.79 290.35 L228.93 290.31 L230.06 290.27 L231.19 290.23 L232.33 290.19 L233.46 290.15 L234.60 290.11 L235.73 290.06 L236.87 290.02 L238.00 289.97 L239.14 289.92 L240.27 289.88 L241.41 289.83 L242.54 289.77 L243.67 289.72 L244.81 289.67 L245.94 289.61 L247.08 289.55 L248.21 289.50 L249.35 289.44 L250.48 289.38 L251.62 289.31 L252.75 289.25 L253.88 289.19 L255.02 289.12 L256.15 289.05 L257.29 288.98 L258.42 288.91 L259.56 288.84 L260.69 288.77 L261.83 288.69 L262.96 288.62 L264.09 288.54 L265.23 288.46 L266.36 288.38 L267.50 288.30 L268.63 288.21 L269.77 288.13 L270.90 288.04 L272.04 287.95 L273.17 287.86 L274.30 287.77 L275.44 287.68 L276.57 287.58 L277.71 287.49 L278.84 287.39 L279.98 287.29 L281.11 287.19 L282.25 287.09 L283.38 286.98 L284.51 286.88 L285.65 286.77 L286.78 286.66 L287.92 286.55 L289.05 286.44 L290.19 286.33 L291.32 286.21 L292.46 286.09 L293.59 285.97 L294.72 285.85 L295.86 285.73 L296.99 285.61 L298.13 285.48 L299.26 285.35 L300.40 285.22 L301.53 285.09 L302.67 284.96 L303.80 284.82 L304.93 284.69 L306.07 284.55 L307.20 284.41 L308.34 284.27 L309.47 284.12 L310.61 283.98 L311.74 283.83 L312.88 283.68 L314.01 283.53 L315.14 283.38 L316.28 283.22 L317.41 283.06 L318.55 282.90 L319.68 282.74 L320.82 282.58 L321.95 282.42 L323.09 282.25 L324.22 282.08 L325.35 281.91 L326.49 281.74 L327.62 281.57 L328.76 281.39 L329.89 281.21 L331.03 281.03 L332.16 280.85 L333.30 280.67 L334.43 280.48 L335.56 280.29 L336.70 280.10 L337.83 279.91 L338.97 279.72 L340.10 279.52 L341.24 279.32 L342.37 279.12 L343.51 278.92 L344.64 278.72 L345.77 278.51 L346.91 278.30 L348.04 278.09 L349.18 277.88 L350.31 277.67 L351.45 277.45 L352.58 277.23 L353.72 277.01 L354.85 276.79 L355.98 276.56 L357.12 276.33 L358.25 276.10 L359.39 275.87 L360.52 275.64 L361.66 275.40 L362.79 275.16 L363.93 274.92 L365.06 274.68 L366.19 274.44 L367.33 274.19 L368.46 273.94 L369.60 273.69 L370.73 273.44 L371.87 273.18 L373.00 272.92 L374.14 272.66 L375.27 272.40 L376.40 272.14 L377.54 271.87 L378.67 271.60 L379.81 271.33 L380.94 271.05 L382.08 270.78 L383.21 270.50 L384.35 270.22 L385.48 269.93 L386.61 269.65 L387.75 269.36 L388.88 269.07 L390.02 268.78 L391.15 268.48 L392.29 268.19 L393.42 267.89 L394.56 267.59 L395.69 267.28 L396.82 266.97 L397.96 266.67 L399.09 266.35 L400.23 266.04 L401.36 265.72 L402.50 265.40 L403.63 265.08 L404.77 264.76 L405.90 264.43 L405.90 264.76 L405.50 264.86 L405.10 264.97 L404.70 265.07 L404.30 265.18 L403.90 265.28 L403.50 265.39 L403.10 265.49 L402.70 265.60 L402.30 265.70 L401.91 265.81 L401.51 265.91 L401.11 266.02 L400.72 266.12 L400.32 266.22 L399.93 266.33 L399.53 266.43 L399.14 266.54 L398.75 266.64 L398.36 266.75 L397.96 266.85 L397.57 266.96 L397.18 267.06 L396.79 267.17 L396.40 267.27 L396.01 267.38 L395.62 267.48 L395.24 267.59 L394.85 267.69 L394.46 267.80 L394.07 267.90 L393.69 268.01 L393.30 268.11 L392.92 268.22 L392.53 268.32 L392.15 268.42 L391.76 268.53 L391.38 268.63 L391.00 268.74 L390.62 268.84 L390.24 268.95 L389.85 269.05 L389.47 269.16 L389.09 269.26 L388.71 269.37 L388.33 269.47 L387.96 269.58 L387.58 269.68 L387.20 269.79 L386.82 269.89 L386.45 270.00 L386.07 270.10 L385.69 270.21 L385.32 270.31 L384.94 270.42 L384.57 270.52 L384.20 270.62 L383.82 270.73 L383.45 270.83 L383.08 270.94 L382.71 271.04 L382.33 271.15 L381.96 271.25 L381.59 271.36 L381.22 271.46 L380.85 271.57 L380.48 271.67 L380.12 271.78 L379.75 271.88 L379.38 271.99 L379.01 272.09 L378.65 272.20 L378.28 272.30 L377.91 272.41 L377.55 272.51 L377.18 272.62 L376.82 272.72 L376.46 272.82 L376.09 272.93 L375.73 273.03 L375.37 273.14 L375.00 273.24 L374.64 273.35 L374.28 273.45 L373.92 273.56 L373.56 273.66 L373.20 273.77 L372.84 273.87 L372.48 273.98 L372.12 274.08 L371.77 274.19 L371.41 274.29 L371.05 274.40 L370.69 274.50 L370.34 274.61 L369.98 274.71 L369.63 274.82 L369.28 274.92 L368.92 275.02 L368.57 275.13 L368.22 275.23 L367.87 275.34 L367.51 275.44 L367.16 275.55 L366.81 275.65 L366.47 275.76 L366.12 275.86 L365.77 275.97 L365.42 276.07 L365.07 276.18 L364.73 276.28 L364.38 276.39 L364.04 276.49 L363.69 276.60 L363.35 276.70 L363.00 276.81 L362.66 276.91 L362.32 277.02 L361.98 277.12 L361.63 277.23 L361.29 277.33 L360.95 277.43 L360.61 277.54 L360.27 277.64 L359.94 277.75 L359.60 277.85 L359.26 277.96 L358.92 278.06 L358.59 278.17 L358.25 278.27 L357.91 278.38 L357.58 278.48 L357.24 278.59 L356.91 278.69 L356.58 278.80 L356.24 278.90 L355.91 279.01 L355.58 279.11 L355.25 279.22 L354.91 279.32 L354.58 279.43 L354.25 279.53 L353.92 279.63 L353.59 279.74 L353.27 279.84 L352.94 279.95 L352.61 280.05 L352.28 280.16 L351.95 280.26 L351.63 280.37" stroke="#3a3a88"/>
</g>
<g stroke="#8a8a8a" stroke-width="1.3" fill="none">
<path d="M66.6 25.7 V299.1 H457.2"/>
<path d="M66.6 299.10 H71.2"/>
<path d="M66.6 267.88 H71.2"/>
<path d="M66.6 236.66 H71.2"/>
<path d="M66.6 205.44 H71.2"/>
<path d="M66.6 174.22 H71.2"/>
<path d="M66.6 143.00 H71.2"/>
<path d="M66.6 111.78 H71.2"/>
<path d="M66.6 80.56 H71.2"/>
<path d="M66.6 49.34 H71.2"/>
<path d="M66.70 299.1 V295.1"/>
<path d="M134.54 299.1 V295.1"/>
<path d="M202.38 299.1 V295.1"/>
<path d="M270.22 299.1 V295.1"/>
<path d="M338.06 299.1 V295.1"/>
<path d="M405.90 299.1 V295.1"/>
</g>
<g font-family="Liberation Sans, sans-serif" font-size="14" fill="#222" stroke="#222" stroke-width="0.12">
<text x="62.3" y="303.40" text-anchor="end">0</text>
<text x="62.3" y="272.18" text-anchor="end">0.2</text>
<text x="62.3" y="240.96" text-anchor="end">0.4</text>
<text x="62.3" y="209.74" text-anchor="end">0.6</text>
<text x="62.3" y="178.52" text-anchor="end">0.8</text>
<text x="62.3" y="147.30" text-anchor="end">1</text>
<text x="62.3" y="116.08" text-anchor="end">1.2</text>
<text x="62.3" y="84.86" text-anchor="end">1.4</text>
<text x="62.3" y="53.64" text-anchor="end">1.6</text>
<text x="66.70" y="314.2" text-anchor="middle">0</text>
<text x="134.54" y="314.2" text-anchor="middle">20</text>
<text x="202.38" y="314.2" text-anchor="middle">40</text>
<text x="270.22" y="314.2" text-anchor="middle">60</text>
<text x="338.06" y="314.2" text-anchor="middle">80</text>
<text x="405.90" y="314.2" text-anchor="middle">100</text>
</g>
<text x="261.7" y="329.8" text-anchor="middle" font-family="Liberation Sans, sans-serif" font-size="15.4" fill="#222" stroke="#222" stroke-width="0.12">Engineering Strain (%)</text>
<text transform="translate(37.3 162.5) rotate(-90)" text-anchor="middle" font-family="Liberation Sans, sans-serif" font-size="15.5" fill="#222" stroke="#222" stroke-width="0.12">Engineering Stress (MPa)</text>
<text x="101" y="54.1" font-family="Liberation Sans, sans-serif" font-size="20" fill="#111" stroke="#111" stroke-width="0.12">T=20C</text>
<text x="338.6" y="38.6" font-family="Liberation Sans, sans-serif" font-size="15.6" fill="#111" stroke="#111" stroke-width="0.12">Strain rate (%/s)</text>
<g font-family="Liberation Sans, sans-serif" font-size="14">
<text x="410" y="52.60" fill="#c4b671" stroke="#c4b671" stroke-width="0.12">20</text>
<text x="410" y="75.60" fill="#c1b470" stroke="#c1b470" stroke-width="0.12">15</text>
<text x="410" y="111.80" fill="#a3a76d" stroke="#a3a76d" stroke-width="0.12">10</text>
<text x="410" y="155.30" fill="#83a07c" stroke="#83a07c" stroke-width="0.12">5</text>
<text x="410" y="182.10" fill="#5f9a8c" stroke="#5f9a8c" stroke-width="0.12">4</text>
<text x="410" y="196.60" fill="#5a959c" stroke="#5a959c" stroke-width="0.12">3</text>
<text x="410" y="210.30" fill="#508ca2" stroke="#508ca2" stroke-width="0.12">2</text>
<text x="410" y="229.50" fill="#4e86aa" stroke="#4e86aa" stroke-width="0.12">1</text>
<text x="410" y="244.00" fill="#4c7cb2" stroke="#4c7cb2" stroke-width="0.12">0.5</text>
<text x="410" y="255.90" fill="#476cb8" stroke="#476cb8" stroke-width="0.12">0.1</text>
<text x="410" y="266.80" fill="#425cb9" stroke="#425cb9" stroke-width="0.12">0.05</text>
<text x="410" y="276.80" fill="#3d4eaa" stroke="#3d4eaa" stroke-width="0.12">0.01</text>
<text x="410" y="288.80" fill="#3e4494" stroke="#3e4494" stroke-width="0.12">0.005</text>
</g>
</svg>
</body></html>
